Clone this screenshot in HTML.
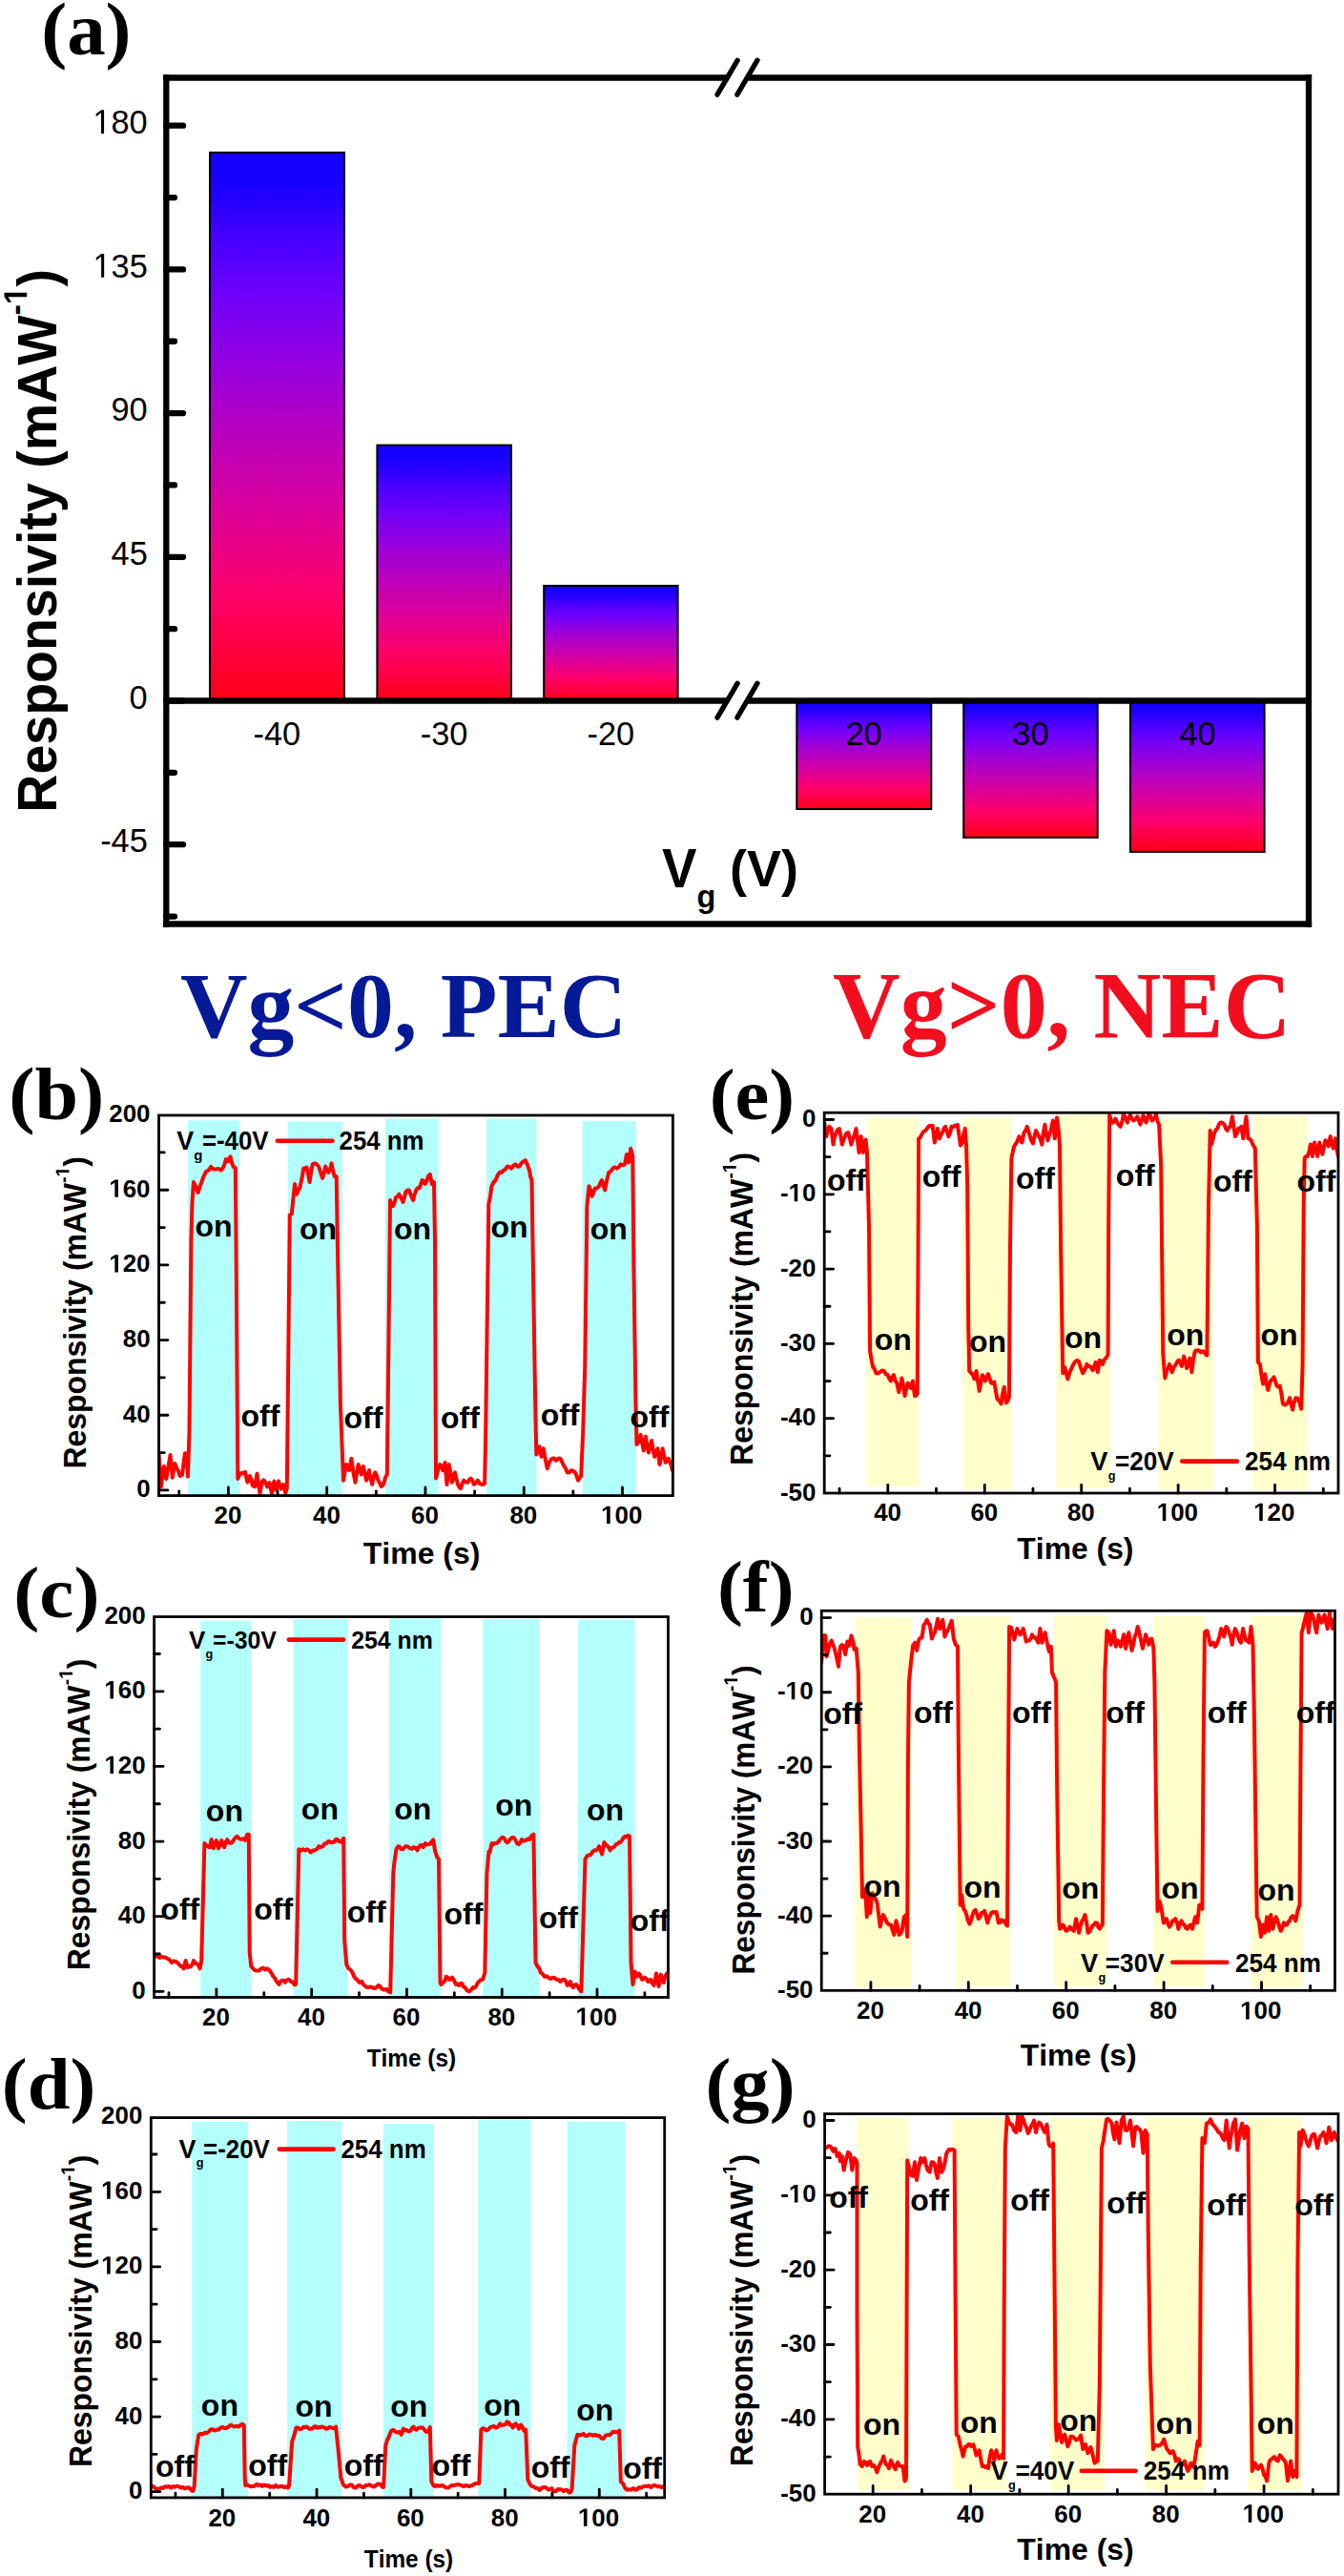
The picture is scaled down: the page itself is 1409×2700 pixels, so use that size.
<!DOCTYPE html>
<html><head><meta charset="utf-8"><style>
html,body{margin:0;padding:0;background:#fff;overflow:hidden;width:1409px;height:2700px;}
svg{display:block;}
text{font-kerning:none;}
</style></head><body>
<svg width="1409" height="2700" viewBox="0 0 1409 2700">
<defs><linearGradient id="gbr" x1="0" y1="0" x2="0" y2="1"><stop offset="0.00" stop-color="#1600ff"/><stop offset="0.05" stop-color="#1600ff"/><stop offset="0.10" stop-color="#2b00ff"/><stop offset="0.15" stop-color="#4400ff"/><stop offset="0.20" stop-color="#5800ff"/><stop offset="0.25" stop-color="#6b00fc"/><stop offset="0.30" stop-color="#7b00f1"/><stop offset="0.35" stop-color="#8b00e6"/><stop offset="0.40" stop-color="#9a00da"/><stop offset="0.45" stop-color="#a800ce"/><stop offset="0.50" stop-color="#b500c2"/><stop offset="0.55" stop-color="#c200b5"/><stop offset="0.60" stop-color="#ce00a8"/><stop offset="0.65" stop-color="#da009a"/><stop offset="0.70" stop-color="#e6008b"/><stop offset="0.75" stop-color="#f1007b"/><stop offset="0.80" stop-color="#fc006b"/><stop offset="0.85" stop-color="#ff0058"/><stop offset="0.90" stop-color="#ff0044"/><stop offset="0.95" stop-color="#ff002b"/><stop offset="1.00" stop-color="#ff0016"/></linearGradient></defs>
<rect width="1409" height="2700" fill="#ffffff"/>
<g transform="translate(188.90 1086.92) scale(0.9985 1)"><text font-family="Liberation Serif" font-weight="bold" font-size="97.92" fill="#061996">Vg&lt;0, PEC</text></g>
<g transform="translate(873.10 1087.26) scale(0.9921 1)"><text font-family="Liberation Serif" font-weight="bold" font-size="98.74" fill="#f20d1f">Vg&gt;0, NEC</text></g>
<rect x="220.00" y="159.83" width="141.00" height="574.67" fill="url(#gbr)" stroke="#000" stroke-width="2.00"/>
<rect x="395.40" y="466.59" width="140.60" height="267.91" fill="url(#gbr)" stroke="#000" stroke-width="2.00"/>
<rect x="570.20" y="613.94" width="140.40" height="120.56" fill="url(#gbr)" stroke="#000" stroke-width="2.00"/>
<rect x="835.30" y="734.50" width="141.00" height="113.53" fill="url(#gbr)" stroke="#000" stroke-width="2.00"/>
<rect x="1010.20" y="734.50" width="140.50" height="143.33" fill="url(#gbr)" stroke="#000" stroke-width="2.00"/>
<rect x="1185.00" y="734.50" width="140.60" height="158.40" fill="url(#gbr)" stroke="#000" stroke-width="2.00"/>
<line x1="174.30" y1="78.35" x2="174.30" y2="971.65" stroke="#000" stroke-width="6.30" stroke-linecap="butt"/>
<line x1="1372.00" y1="78.35" x2="1372.00" y2="971.65" stroke="#000" stroke-width="6.30" stroke-linecap="butt"/>
<line x1="171.15" y1="968.50" x2="1375.15" y2="968.50" stroke="#000" stroke-width="6.30" stroke-linecap="butt"/>
<line x1="171.15" y1="81.50" x2="762.00" y2="81.50" stroke="#000" stroke-width="6.30" stroke-linecap="butt"/>
<line x1="783.50" y1="81.50" x2="1375.15" y2="81.50" stroke="#000" stroke-width="6.30" stroke-linecap="butt"/>
<line x1="174.30" y1="734.50" x2="762.30" y2="734.50" stroke="#000" stroke-width="6.30" stroke-linecap="butt"/>
<line x1="783.20" y1="734.50" x2="1372.00" y2="734.50" stroke="#000" stroke-width="6.30" stroke-linecap="butt"/>
<line x1="752.00" y1="99.10" x2="773.20" y2="63.20" stroke="#000" stroke-width="5.30" stroke-linecap="round"/>
<line x1="772.90" y1="99.10" x2="794.00" y2="63.20" stroke="#000" stroke-width="5.30" stroke-linecap="round"/>
<line x1="752.00" y1="752.10" x2="773.20" y2="716.20" stroke="#000" stroke-width="5.30" stroke-linecap="round"/>
<line x1="772.90" y1="752.10" x2="794.00" y2="716.20" stroke="#000" stroke-width="5.30" stroke-linecap="round"/>
<line x1="174.30" y1="131.70" x2="192.00" y2="131.70" stroke="#000" stroke-width="6.30" stroke-linecap="round"/>
<line x1="174.30" y1="282.40" x2="192.00" y2="282.40" stroke="#000" stroke-width="6.30" stroke-linecap="round"/>
<line x1="174.30" y1="433.10" x2="192.00" y2="433.10" stroke="#000" stroke-width="6.30" stroke-linecap="round"/>
<line x1="174.30" y1="583.80" x2="192.00" y2="583.80" stroke="#000" stroke-width="6.30" stroke-linecap="round"/>
<line x1="174.30" y1="734.50" x2="192.00" y2="734.50" stroke="#000" stroke-width="6.30" stroke-linecap="round"/>
<line x1="174.30" y1="885.20" x2="192.00" y2="885.20" stroke="#000" stroke-width="6.30" stroke-linecap="round"/>
<line x1="174.30" y1="207.05" x2="183.00" y2="207.05" stroke="#000" stroke-width="6.30" stroke-linecap="round"/>
<line x1="174.30" y1="357.75" x2="183.00" y2="357.75" stroke="#000" stroke-width="6.30" stroke-linecap="round"/>
<line x1="174.30" y1="508.45" x2="183.00" y2="508.45" stroke="#000" stroke-width="6.30" stroke-linecap="round"/>
<line x1="174.30" y1="659.15" x2="183.00" y2="659.15" stroke="#000" stroke-width="6.30" stroke-linecap="round"/>
<line x1="174.30" y1="809.85" x2="183.00" y2="809.85" stroke="#000" stroke-width="6.30" stroke-linecap="round"/>
<line x1="174.30" y1="960.55" x2="183.00" y2="960.55" stroke="#000" stroke-width="6.30" stroke-linecap="round"/>
<g transform="translate(97.38 140.09) scale(0.9550 1)"><path transform="translate(0.00 0) scale(0.01758 -0.01758)" d="M515 0L515 1237L197 1010L197 1180L530 1409L696 1409L696 0Z" fill="#000"/><text x="20.02" font-family="Liberation Sans" font-weight="normal" font-size="36.00" fill="#000">80</text></g>
<g transform="translate(97.48 290.79) scale(0.9550 1)"><path transform="translate(0.00 0) scale(0.01758 -0.01758)" d="M515 0L515 1237L197 1010L197 1180L530 1409L696 1409L696 0Z" fill="#000"/><text x="20.02" font-family="Liberation Sans" font-weight="normal" font-size="36.00" fill="#000">35</text></g>
<g transform="translate(116.50 441.49) scale(0.9550 1)"><text font-family="Liberation Sans" font-weight="normal" font-size="36.00" fill="#000">90</text></g>
<g transform="translate(116.60 592.01) scale(0.9550 1)"><text font-family="Liberation Sans" font-weight="normal" font-size="36.00" fill="#000">45</text></g>
<g transform="translate(135.62 742.89) scale(0.9550 1)"><text font-family="Liberation Sans" font-weight="normal" font-size="36.00" fill="#000">0</text></g>
<g transform="translate(105.15 893.41) scale(0.9550 1)"><text font-family="Liberation Sans" font-weight="normal" font-size="36.00" fill="#000">-45</text></g>
<g transform="translate(265.56 780.89) scale(0.9550 1)"><text font-family="Liberation Sans" font-weight="normal" font-size="36.00" fill="#000">-40</text></g>
<g transform="translate(440.76 780.89) scale(0.9550 1)"><text font-family="Liberation Sans" font-weight="normal" font-size="36.00" fill="#000">-30</text></g>
<g transform="translate(615.46 780.89) scale(0.9550 1)"><text font-family="Liberation Sans" font-weight="normal" font-size="36.00" fill="#000">-20</text></g>
<g transform="translate(886.49 780.89) scale(0.9550 1)"><text font-family="Liberation Sans" font-weight="normal" font-size="36.00" fill="#000">20</text></g>
<g transform="translate(1061.35 780.89) scale(0.9550 1)"><text font-family="Liberation Sans" font-weight="normal" font-size="36.00" fill="#000">30</text></g>
<g transform="translate(1236.46 780.89) scale(0.9550 1)"><text font-family="Liberation Sans" font-weight="normal" font-size="36.00" fill="#000">40</text></g>
<g transform="translate(43.25 56.74) scale(1.0462 1)"><text font-family="Liberation Serif" font-weight="bold" font-size="77.31" fill="#000">(a)</text></g>
<g transform="translate(693.93 930.30) scale(0.9615 1)"><text font-family="Liberation Sans" font-weight="bold" font-size="56.83" fill="#000">V</text></g>
<g transform="translate(730.47 950.50) scale(1.0000 1)"><text font-family="Liberation Sans" font-weight="bold" font-size="32.50" fill="#000">g</text></g>
<g transform="translate(764.91 929.40) scale(1.0189 1)"><text font-family="Liberation Sans" font-weight="bold" font-size="53.00" fill="#000">(V)</text></g>
<g transform="translate(58.60 851.72) rotate(-90) scale(0.9676 1)"><text font-family="Liberation Sans" font-weight="bold" font-size="57.40" fill="#000">Responsivity (mAW</text><g transform="translate(538.99 -30.42)"><text x="0.00" font-family="Liberation Sans" font-weight="bold" font-size="34.44" fill="#000">-</text><path transform="translate(11.47 0) scale(0.01682 -0.01682)" d="M478 0L478 1170L140 959L140 1180L493 1409L759 1409L759 0Z" fill="#000"/></g><g transform="translate(569.62 0)"><text font-family="Liberation Sans" font-weight="bold" font-size="57.40" fill="#000">)</text></g></g>
<rect x="197.10" y="1174.30" width="53.90" height="393.30" fill="#b3fffc"/>
<rect x="301.60" y="1175.40" width="57.30" height="392.20" fill="#b3fffc"/>
<rect x="403.80" y="1172.70" width="55.80" height="394.90" fill="#b3fffc"/>
<rect x="510.00" y="1172.70" width="52.50" height="394.90" fill="#b3fffc"/>
<rect x="610.70" y="1174.80" width="56.30" height="392.80" fill="#b3fffc"/>
<clipPath id="c53"><rect x="166.50" y="1169.00" width="538.90" height="398.60"/></clipPath>
<path clip-path="url(#c53)" d="M166.5 1523.8 L168.9 1558.3 L170.3 1546.7 L171.9 1536.9 L172.8 1542.6 L174.3 1550.0 L178.5 1525.0 L180.8 1548.8 L183.2 1533.9 L184.1 1535.9 L185.6 1539.3 L187.1 1542.3 L188.6 1547.0 L189.8 1545.2 L191.0 1545.8 L193.9 1523.2 L195.7 1523.8 L196.9 1547.6 L198.5 1500.0 L200.4 1300.0 L201.5 1260.0 L203.0 1239.0 L205.1 1243.4 L207.7 1250.0 L209.3 1244.3 L210.8 1240.6 L213.3 1233.6 L216.0 1228.0 L218.8 1226.4 L221.2 1222.9 L223.3 1225.2 L225.4 1225.5 L228.7 1225.0 L231.7 1226.6 L233.8 1224.0 L235.4 1220.3 L236.9 1215.1 L239.0 1217.2 L240.4 1213.7 L241.6 1212.3 L242.9 1218.3 L244.2 1221.9 L245.5 1223.8 L246.8 1224.0 L247.5 1300.0 L249.3 1550.0 L250.9 1545.9 L252.9 1544.0 L254.8 1544.4 L257.0 1542.9 L259.4 1553.6 L260.8 1551.1 L261.8 1547.0 L263.6 1551.0 L264.8 1557.0 L267.1 1558.3 L269.5 1544.6 L270.8 1555.5 L272.5 1564.9 L274.9 1552.4 L276.4 1551.4 L277.9 1553.0 L280.2 1558.3 L281.1 1557.1 L282.6 1554.2 L285.0 1566.0 L287.4 1552.4 L288.5 1558.2 L289.8 1561.9 L292.1 1552.4 L294.5 1560.7 L296.9 1556.0 L298.1 1559.2 L299.3 1564.9 L300.8 1560.0 L302.5 1400.0 L303.8 1273.5 L305.8 1272.5 L309.0 1241.0 L311.0 1251.7 L312.6 1247.9 L314.2 1245.4 L316.4 1235.8 L318.3 1224.6 L319.8 1224.7 L321.5 1223.5 L323.0 1230.2 L324.6 1239.0 L326.1 1228.6 L327.7 1220.4 L329.8 1219.4 L331.7 1220.0 L334.0 1222.5 L336.3 1229.5 L338.1 1235.0 L339.6 1230.0 L341.2 1222.5 L343.0 1226.7 L344.4 1228.8 L346.2 1225.3 L347.5 1219.4 L348.8 1225.5 L350.6 1233.0 L352.7 1233.0 L353.8 1300.0 L356.9 1472.0 L360.0 1551.7 L361.6 1542.4 L363.0 1535.0 L364.7 1538.8 L366.2 1541.0 L368.3 1528.8 L370.4 1543.3 L372.5 1553.8 L373.8 1545.4 L375.6 1535.0 L377.1 1539.1 L378.8 1545.4 L380.8 1537.0 L382.4 1543.4 L384.0 1551.7 L385.7 1547.3 L387.0 1541.0 L388.5 1549.5 L390.2 1555.8 L391.5 1548.3 L393.3 1543.3 L394.9 1546.6 L396.5 1551.7 L397.8 1553.8 L399.6 1558.0 L401.2 1556.9 L402.7 1553.8 L404.0 1548.5 L405.8 1545.4 L407.5 1400.0 L409.0 1258.0 L410.3 1262.3 L412.0 1264.0 L413.6 1260.2 L415.0 1255.0 L416.9 1254.3 L418.3 1251.7 L420.3 1255.1 L422.5 1260.0 L423.9 1255.5 L425.5 1249.0 L427.2 1247.5 L428.8 1247.5 L431.2 1253.5 L433.1 1258.0 L434.7 1251.6 L436.2 1247.5 L437.7 1245.3 L439.4 1245.4 L440.8 1242.4 L442.5 1237.0 L444.0 1238.0 L445.6 1241.0 L447.3 1238.1 L448.8 1233.0 L450.8 1230.8 L452.9 1241.2 L455.0 1239.0 L456.0 1300.0 L457.0 1549.6 L459.2 1541.1 L461.2 1535.0 L463.0 1537.3 L464.4 1541.2 L466.5 1533.0 L468.5 1556.0 L470.6 1535.0 L472.2 1543.1 L473.8 1553.8 L475.5 1549.3 L476.9 1543.3 L478.6 1550.5 L480.0 1555.8 L481.8 1559.2 L483.1 1560.0 L484.6 1555.1 L486.2 1551.7 L488.3 1553.5 L490.4 1553.8 L492.0 1550.7 L493.5 1549.6 L495.2 1551.5 L496.7 1555.8 L498.5 1554.9 L500.8 1551.7 L503.1 1555.0 L505.0 1555.8 L506.5 1556.0 L508.1 1554.8 L509.2 1500.0 L512.3 1262.0 L514.1 1253.6 L515.4 1243.3 L517.6 1239.0 L519.6 1237.0 L521.5 1232.2 L523.8 1228.8 L525.9 1228.9 L527.9 1226.7 L529.7 1225.7 L532.0 1222.5 L534.0 1222.9 L536.2 1224.6 L538.5 1221.5 L540.4 1220.4 L542.8 1222.7 L544.6 1222.5 L546.5 1219.2 L548.8 1217.3 L550.8 1216.2 L552.7 1220.3 L555.0 1226.7 L556.1 1233.0 L557.5 1237.0 L559.2 1347.5 L561.2 1472.5 L562.3 1524.6 L563.6 1521.7 L565.4 1516.2 L567.5 1526.7 L569.6 1518.3 L571.8 1529.9 L573.8 1539.2 L575.8 1532.9 L577.6 1529.8 L579.0 1528.8 L581.1 1528.6 L583.1 1530.8 L585.4 1528.6 L587.3 1528.8 L588.6 1530.9 L590.4 1535.0 L592.6 1538.3 L594.6 1543.3 L596.7 1543.4 L598.8 1541.2 L600.6 1541.5 L602.9 1543.3 L604.3 1546.5 L606.0 1551.7 L607.6 1548.7 L609.2 1547.5 L611.2 1500.0 L613.3 1431.0 L615.4 1264.0 L617.5 1243.3 L619.1 1247.4 L620.6 1253.8 L622.1 1250.6 L623.8 1245.4 L625.7 1245.6 L628.0 1243.3 L629.7 1239.0 L631.0 1237.0 L632.4 1241.3 L634.2 1247.5 L636.1 1237.2 L638.3 1228.8 L640.2 1227.8 L642.5 1224.6 L644.8 1223.3 L646.7 1224.6 L648.8 1223.2 L650.8 1220.4 L653.1 1221.2 L655.0 1220.4 L657.0 1210.0 L659.2 1218.3 L661.2 1203.8 L663.3 1212.0 L664.4 1326.7 L666.5 1472.5 L667.5 1514.0 L669.9 1510.1 L671.7 1503.8 L673.0 1511.3 L674.8 1520.4 L676.9 1505.8 L678.4 1515.0 L680.0 1522.5 L681.4 1517.0 L683.1 1510.0 L684.6 1519.4 L686.2 1526.7 L687.8 1521.6 L689.4 1518.3 L691.5 1535.0 L693.1 1527.6 L694.6 1518.3 L695.9 1524.3 L697.7 1532.9 L699.0 1531.7 L700.8 1528.8 L703.1 1534.2 L705.0 1541.2" fill="none" stroke="#ff0000" stroke-width="4.00" stroke-linejoin="round" stroke-linecap="round"/>
<rect x="166.50" y="1169.00" width="538.90" height="398.60" fill="none" stroke="#000" stroke-width="2.80"/>
<line x1="166.50" y1="1561.90" x2="175.90" y2="1561.90" stroke="#000" stroke-width="2.80" stroke-linecap="round"/>
<line x1="166.50" y1="1483.24" x2="175.90" y2="1483.24" stroke="#000" stroke-width="2.80" stroke-linecap="round"/>
<line x1="166.50" y1="1404.58" x2="175.90" y2="1404.58" stroke="#000" stroke-width="2.80" stroke-linecap="round"/>
<line x1="166.50" y1="1325.92" x2="175.90" y2="1325.92" stroke="#000" stroke-width="2.80" stroke-linecap="round"/>
<line x1="166.50" y1="1247.26" x2="175.90" y2="1247.26" stroke="#000" stroke-width="2.80" stroke-linecap="round"/>
<line x1="166.50" y1="1522.57" x2="172.30" y2="1522.57" stroke="#000" stroke-width="2.80" stroke-linecap="round"/>
<line x1="166.50" y1="1443.91" x2="172.30" y2="1443.91" stroke="#000" stroke-width="2.80" stroke-linecap="round"/>
<line x1="166.50" y1="1365.25" x2="172.30" y2="1365.25" stroke="#000" stroke-width="2.80" stroke-linecap="round"/>
<line x1="166.50" y1="1286.59" x2="172.30" y2="1286.59" stroke="#000" stroke-width="2.80" stroke-linecap="round"/>
<line x1="166.50" y1="1207.93" x2="172.30" y2="1207.93" stroke="#000" stroke-width="2.80" stroke-linecap="round"/>
<line x1="239.40" y1="1567.60" x2="239.40" y2="1558.90" stroke="#000" stroke-width="2.80" stroke-linecap="round"/>
<line x1="342.68" y1="1567.60" x2="342.68" y2="1558.90" stroke="#000" stroke-width="2.80" stroke-linecap="round"/>
<line x1="445.95" y1="1567.60" x2="445.95" y2="1558.90" stroke="#000" stroke-width="2.80" stroke-linecap="round"/>
<line x1="549.23" y1="1567.60" x2="549.23" y2="1558.90" stroke="#000" stroke-width="2.80" stroke-linecap="round"/>
<line x1="652.50" y1="1567.60" x2="652.50" y2="1558.90" stroke="#000" stroke-width="2.80" stroke-linecap="round"/>
<line x1="187.76" y1="1567.60" x2="187.76" y2="1562.80" stroke="#000" stroke-width="2.80" stroke-linecap="round"/>
<line x1="291.04" y1="1567.60" x2="291.04" y2="1562.80" stroke="#000" stroke-width="2.80" stroke-linecap="round"/>
<line x1="394.31" y1="1567.60" x2="394.31" y2="1562.80" stroke="#000" stroke-width="2.80" stroke-linecap="round"/>
<line x1="497.59" y1="1567.60" x2="497.59" y2="1562.80" stroke="#000" stroke-width="2.80" stroke-linecap="round"/>
<line x1="600.86" y1="1567.60" x2="600.86" y2="1562.80" stroke="#000" stroke-width="2.80" stroke-linecap="round"/>
<g transform="translate(143.14 1569.46) scale(0.9750 1)"><text font-family="Liberation Sans" font-weight="bold" font-size="26.60" fill="#000">0</text></g>
<g transform="translate(128.72 1490.80) scale(0.9750 1)"><text font-family="Liberation Sans" font-weight="bold" font-size="26.60" fill="#000">40</text></g>
<g transform="translate(128.72 1412.14) scale(0.9750 1)"><text font-family="Liberation Sans" font-weight="bold" font-size="26.60" fill="#000">80</text></g>
<g transform="translate(114.29 1333.48) scale(0.9750 1)"><path transform="translate(0.00 0) scale(0.01299 -0.01299)" d="M478 0L478 1170L140 959L140 1180L493 1409L759 1409L759 0Z" fill="#000"/><text x="14.79" font-family="Liberation Sans" font-weight="bold" font-size="26.60" fill="#000">20</text></g>
<g transform="translate(114.29 1254.82) scale(0.9750 1)"><path transform="translate(0.00 0) scale(0.01299 -0.01299)" d="M478 0L478 1170L140 959L140 1180L493 1409L759 1409L759 0Z" fill="#000"/><text x="14.79" font-family="Liberation Sans" font-weight="bold" font-size="26.60" fill="#000">60</text></g>
<g transform="translate(114.29 1176.16) scale(0.9750 1)"><text font-family="Liberation Sans" font-weight="bold" font-size="26.60" fill="#000">200</text></g>
<g transform="translate(224.56 1597.06) scale(0.9750 1)"><text font-family="Liberation Sans" font-weight="bold" font-size="26.60" fill="#000">20</text></g>
<g transform="translate(328.09 1597.06) scale(0.9750 1)"><text font-family="Liberation Sans" font-weight="bold" font-size="26.60" fill="#000">40</text></g>
<g transform="translate(431.08 1597.06) scale(0.9750 1)"><text font-family="Liberation Sans" font-weight="bold" font-size="26.60" fill="#000">60</text></g>
<g transform="translate(534.42 1597.06) scale(0.9750 1)"><text font-family="Liberation Sans" font-weight="bold" font-size="26.60" fill="#000">80</text></g>
<g transform="translate(630.08 1597.06) scale(0.9750 1)"><path transform="translate(0.00 0) scale(0.01299 -0.01299)" d="M478 0L478 1170L140 959L140 1180L493 1409L759 1409L759 0Z" fill="#000"/><text x="14.79" font-family="Liberation Sans" font-weight="bold" font-size="26.60" fill="#000">00</text></g>
<g transform="translate(380.84 1638.80) scale(1.0096 1)"><text font-family="Liberation Sans" font-weight="bold" font-size="31.69" fill="#000">Time (s)</text></g>
<g transform="translate(90.20 1539.54) rotate(-90) scale(0.9556 1)"><text font-family="Liberation Sans" font-weight="bold" font-size="33.40" fill="#000">Responsivity (mAW</text><g transform="translate(313.63 -17.70)"><text x="0.00" font-family="Liberation Sans" font-weight="bold" font-size="20.04" fill="#000">-</text><path transform="translate(6.67 0) scale(0.00979 -0.00979)" d="M478 0L478 1170L140 959L140 1180L493 1409L759 1409L759 0Z" fill="#000"/></g><g transform="translate(331.45 0)"><text font-family="Liberation Sans" font-weight="bold" font-size="33.40" fill="#000">)</text></g></g>
<g transform="translate(9.30 1173.27) scale(1.0549 1)"><text font-family="Liberation Serif" font-weight="bold" font-size="77.64" fill="#000">(b)</text></g>
<g transform="translate(204.55 1295.60) scale(1.0000 1)"><text font-family="Liberation Sans" font-weight="bold" font-size="32.00" fill="#000">on</text></g>
<g transform="translate(313.95 1299.00) scale(1.0000 1)"><text font-family="Liberation Sans" font-weight="bold" font-size="32.00" fill="#000">on</text></g>
<g transform="translate(412.95 1299.00) scale(1.0000 1)"><text font-family="Liberation Sans" font-weight="bold" font-size="32.00" fill="#000">on</text></g>
<g transform="translate(514.55 1297.00) scale(1.0000 1)"><text font-family="Liberation Sans" font-weight="bold" font-size="32.00" fill="#000">on</text></g>
<g transform="translate(618.75 1299.00) scale(1.0000 1)"><text font-family="Liberation Sans" font-weight="bold" font-size="32.00" fill="#000">on</text></g>
<g transform="translate(252.50 1495.20) scale(1.0000 1)"><text font-family="Liberation Sans" font-weight="bold" font-size="32.00" fill="#000">off</text></g>
<g transform="translate(360.45 1497.30) scale(1.0000 1)"><text font-family="Liberation Sans" font-weight="bold" font-size="32.00" fill="#000">off</text></g>
<g transform="translate(462.05 1497.30) scale(1.0000 1)"><text font-family="Liberation Sans" font-weight="bold" font-size="32.00" fill="#000">off</text></g>
<g transform="translate(566.65 1494.20) scale(1.0000 1)"><text font-family="Liberation Sans" font-weight="bold" font-size="32.00" fill="#000">off</text></g>
<g transform="translate(660.45 1496.30) scale(1.0000 1)"><text font-family="Liberation Sans" font-weight="bold" font-size="32.00" fill="#000">off</text></g>
<g transform="translate(185.22 1205.20) scale(1.0000 1)"><text font-family="Liberation Sans" font-weight="bold" font-size="26.90" fill="#000">V</text></g>
<g transform="translate(203.36 1215.60) scale(1.0000 1)"><text font-family="Liberation Sans" font-weight="bold" font-size="15.00" fill="#000">g</text></g>
<g transform="translate(211.95 1205.20) scale(0.9600 1)"><text font-family="Liberation Sans" font-weight="bold" font-size="26.90" fill="#000">=-40V</text></g>
<line x1="290.80" y1="1195.70" x2="348.50" y2="1195.70" stroke="#ff0000" stroke-width="4.60" stroke-linecap="round"/>
<g transform="translate(355.60 1205.20) scale(0.9600 1)"><text font-family="Liberation Sans" font-weight="bold" font-size="26.90" fill="#000">254 nm</text></g>
<rect x="210.20" y="1698.60" width="53.30" height="394.90" fill="#b3fffc"/>
<rect x="307.80" y="1697.10" width="56.80" height="396.40" fill="#b3fffc"/>
<rect x="408.10" y="1696.20" width="54.30" height="397.30" fill="#b3fffc"/>
<rect x="506.30" y="1697.00" width="59.30" height="396.50" fill="#b3fffc"/>
<rect x="605.80" y="1697.50" width="59.80" height="396.00" fill="#b3fffc"/>
<clipPath id="c110"><rect x="161.60" y="1694.60" width="538.90" height="398.90"/></clipPath>
<path clip-path="url(#c110)" d="M162.3 2050.8 L164.8 2050.4 L167.5 2051.9 L169.2 2050.8 L171.5 2051.5 L173.4 2051.6 L175.8 2053.0 L177.9 2054.2 L180.0 2057.0 L182.1 2055.3 L184.2 2056.0 L186.6 2057.4 L189.4 2061.0 L191.0 2061.1 L192.5 2063.3 L194.6 2055.0 L196.7 2062.3 L198.2 2061.1 L199.8 2061.3 L201.6 2059.1 L202.9 2055.0 L204.5 2057.5 L206.0 2058.0 L207.9 2059.6 L209.6 2063.3 L211.2 2055.0 L214.4 1932.0 L215.4 1933.1 L217.6 1935.4 L219.6 1936.2 L221.7 1928.0 L223.8 1937.3 L225.5 1932.1 L226.9 1929.0 L229.0 1937.3 L230.5 1934.3 L232.1 1929.0 L233.6 1933.5 L235.2 1936.2 L236.6 1931.0 L238.3 1928.0 L239.7 1931.0 L241.5 1932.0 L243.3 1931.3 L244.6 1929.0 L247.0 1925.9 L248.8 1924.8 L250.6 1927.1 L252.9 1928.0 L255.0 1927.2 L257.1 1929.0 L259.2 1922.7 L260.8 1922.7 L261.7 2046.7 L263.3 2061.2 L265.4 2063.3 L267.2 2065.2 L269.6 2065.4 L271.6 2065.4 L273.8 2063.3 L275.8 2062.6 L277.9 2064.4 L280.0 2063.3 L282.1 2064.7 L284.2 2067.5 L286.4 2071.5 L288.3 2073.8 L290.3 2077.5 L292.5 2080.0 L294.0 2076.9 L295.6 2075.8 L297.2 2075.7 L298.8 2077.9 L300.6 2075.4 L302.9 2074.8 L305.3 2077.1 L307.1 2077.9 L308.6 2080.2 L310.2 2080.0 L313.3 1938.3 L315.6 1939.4 L317.5 1938.3 L319.9 1939.6 L321.7 1938.3 L323.5 1939.2 L325.8 1941.5 L328.0 1939.5 L330.0 1939.4 L332.2 1938.1 L334.2 1935.2 L336.0 1936.2 L338.3 1935.2 L340.3 1932.5 L342.5 1932.0 L344.1 1930.1 L345.6 1930.0 L347.4 1931.4 L348.8 1931.0 L350.3 1930.6 L351.9 1928.0 L353.2 1927.7 L355.0 1930.0 L356.5 1929.6 L358.1 1931.0 L360.2 1926.9 L361.2 2034.2 L363.3 2059.2 L365.4 2063.3 L367.2 2064.4 L369.6 2067.5 L371.2 2071.7 L372.7 2073.8 L374.0 2074.3 L375.8 2076.9 L377.3 2078.2 L379.2 2076.9 L380.7 2079.7 L382.1 2081.0 L384.4 2083.0 L386.2 2083.1 L388.2 2082.4 L390.4 2083.1 L392.4 2084.1 L394.6 2083.1 L396.7 2081.0 L398.4 2081.8 L399.8 2084.2 L402.2 2085.4 L404.0 2085.2 L405.6 2085.1 L407.1 2087.3 L409.2 2088.3 L412.3 1963.3 L413.3 1953.0 L415.4 1938.3 L417.5 1935.2 L418.9 1935.6 L420.6 1938.3 L422.6 1938.0 L424.8 1935.2 L427.3 1935.3 L430.0 1937.3 L431.8 1937.9 L433.3 1936.3 L435.5 1936.7 L437.5 1939.4 L439.2 1936.0 L440.6 1934.2 L442.2 1933.9 L443.8 1936.2 L445.8 1932.0 L447.6 1933.4 L449.0 1933.1 L450.7 1933.0 L452.1 1931.0 L454.2 1928.3 L456.2 1940.4 L458.3 1946.7 L460.0 1948.8 L461.5 2078.0 L462.5 2080.0 L464.6 2077.9 L466.4 2076.1 L467.7 2071.7 L469.2 2072.5 L470.8 2074.8 L472.4 2074.5 L474.0 2072.7 L476.0 2075.8 L478.1 2080.0 L479.7 2079.5 L481.2 2081.0 L482.9 2078.8 L484.4 2079.0 L485.7 2082.2 L487.5 2083.1 L489.8 2086.4 L491.7 2087.3 L493.7 2085.9 L495.8 2083.1 L497.7 2083.5 L499.0 2082.0 L500.7 2078.3 L502.1 2076.9 L504.0 2075.2 L506.2 2074.8 L508.3 2067.5 L510.4 1963.3 L512.5 1940.4 L513.5 1941.5 L515.6 1932.0 L517.2 1933.2 L518.8 1932.0 L520.6 1932.1 L522.9 1930.0 L524.9 1927.2 L527.1 1925.8 L528.8 1926.9 L530.2 1930.0 L532.0 1931.3 L533.3 1930.0 L535.2 1927.2 L537.5 1925.8 L538.9 1926.3 L540.6 1929.0 L542.1 1932.2 L543.8 1933.1 L545.1 1931.8 L546.9 1928.0 L549.0 1929.7 L551.0 1929.0 L553.3 1927.5 L555.2 1928.0 L557.3 1924.1 L559.4 1922.7 L561.5 2057.0 L563.5 2061.2 L565.3 2063.2 L566.7 2067.5 L568.5 2068.6 L570.8 2071.7 L573.0 2071.3 L575.0 2072.7 L577.1 2073.9 L579.2 2072.7 L581.0 2072.9 L583.3 2074.8 L585.3 2074.9 L587.5 2076.9 L589.6 2074.9 L591.7 2074.8 L593.3 2076.8 L594.8 2081.0 L596.3 2079.9 L597.9 2076.9 L599.3 2081.2 L601.0 2083.1 L602.8 2080.4 L604.2 2080.0 L605.5 2081.7 L607.3 2085.2 L609.4 2087.3 L611.5 2015.4 L613.5 1948.8 L614.6 1946.7 L616.0 1944.7 L617.7 1944.6 L619.1 1944.2 L620.8 1941.5 L623.1 1939.2 L625.0 1939.4 L626.6 1938.0 L628.1 1935.2 L629.9 1940.1 L631.2 1943.5 L633.3 1931.0 L635.7 1934.3 L637.5 1935.2 L639.6 1939.4 L640.9 1937.1 L642.7 1936.2 L644.2 1935.5 L645.8 1933.1 L647.2 1932.8 L648.9 1931.0 L650.4 1931.0 L652.0 1929.0 L653.6 1926.0 L655.2 1924.8 L656.8 1925.3 L658.3 1923.8 L660.0 1924.8 L661.5 2057.0 L663.5 2080.0 L665.6 2066.5 L667.7 2071.7 L669.8 2068.5 L671.1 2070.4 L673.0 2074.8 L674.3 2074.6 L676.0 2072.7 L677.8 2074.0 L679.2 2076.9 L680.5 2077.1 L682.3 2074.8 L684.0 2078.8 L685.4 2081.0 L686.7 2075.9 L687.9 2068.5 L689.0 2074.1 L690.6 2082.0 L692.7 2069.6 L694.1 2073.0 L695.8 2078.0 L697.1 2072.1 L699.0 2068.5 L700.4 2069.6" fill="none" stroke="#ff0000" stroke-width="4.00" stroke-linejoin="round" stroke-linecap="round"/>
<rect x="161.60" y="1694.60" width="538.90" height="398.90" fill="none" stroke="#000" stroke-width="2.80"/>
<line x1="161.60" y1="2087.30" x2="171.00" y2="2087.30" stroke="#000" stroke-width="2.80" stroke-linecap="round"/>
<line x1="161.60" y1="2008.68" x2="171.00" y2="2008.68" stroke="#000" stroke-width="2.80" stroke-linecap="round"/>
<line x1="161.60" y1="1930.06" x2="171.00" y2="1930.06" stroke="#000" stroke-width="2.80" stroke-linecap="round"/>
<line x1="161.60" y1="1851.44" x2="171.00" y2="1851.44" stroke="#000" stroke-width="2.80" stroke-linecap="round"/>
<line x1="161.60" y1="1772.82" x2="171.00" y2="1772.82" stroke="#000" stroke-width="2.80" stroke-linecap="round"/>
<line x1="161.60" y1="2047.99" x2="167.40" y2="2047.99" stroke="#000" stroke-width="2.80" stroke-linecap="round"/>
<line x1="161.60" y1="1969.37" x2="167.40" y2="1969.37" stroke="#000" stroke-width="2.80" stroke-linecap="round"/>
<line x1="161.60" y1="1890.75" x2="167.40" y2="1890.75" stroke="#000" stroke-width="2.80" stroke-linecap="round"/>
<line x1="161.60" y1="1812.13" x2="167.40" y2="1812.13" stroke="#000" stroke-width="2.80" stroke-linecap="round"/>
<line x1="161.60" y1="1733.51" x2="167.40" y2="1733.51" stroke="#000" stroke-width="2.80" stroke-linecap="round"/>
<line x1="226.90" y1="2093.50" x2="226.90" y2="2084.80" stroke="#000" stroke-width="2.80" stroke-linecap="round"/>
<line x1="326.68" y1="2093.50" x2="326.68" y2="2084.80" stroke="#000" stroke-width="2.80" stroke-linecap="round"/>
<line x1="426.45" y1="2093.50" x2="426.45" y2="2084.80" stroke="#000" stroke-width="2.80" stroke-linecap="round"/>
<line x1="526.23" y1="2093.50" x2="526.23" y2="2084.80" stroke="#000" stroke-width="2.80" stroke-linecap="round"/>
<line x1="626.00" y1="2093.50" x2="626.00" y2="2084.80" stroke="#000" stroke-width="2.80" stroke-linecap="round"/>
<line x1="177.01" y1="2093.50" x2="177.01" y2="2088.70" stroke="#000" stroke-width="2.80" stroke-linecap="round"/>
<line x1="276.79" y1="2093.50" x2="276.79" y2="2088.70" stroke="#000" stroke-width="2.80" stroke-linecap="round"/>
<line x1="376.56" y1="2093.50" x2="376.56" y2="2088.70" stroke="#000" stroke-width="2.80" stroke-linecap="round"/>
<line x1="476.34" y1="2093.50" x2="476.34" y2="2088.70" stroke="#000" stroke-width="2.80" stroke-linecap="round"/>
<line x1="576.11" y1="2093.50" x2="576.11" y2="2088.70" stroke="#000" stroke-width="2.80" stroke-linecap="round"/>
<line x1="675.89" y1="2093.50" x2="675.89" y2="2088.70" stroke="#000" stroke-width="2.80" stroke-linecap="round"/>
<g transform="translate(138.24 2094.86) scale(0.9750 1)"><text font-family="Liberation Sans" font-weight="bold" font-size="26.60" fill="#000">0</text></g>
<g transform="translate(123.82 2016.24) scale(0.9750 1)"><text font-family="Liberation Sans" font-weight="bold" font-size="26.60" fill="#000">40</text></g>
<g transform="translate(123.82 1937.62) scale(0.9750 1)"><text font-family="Liberation Sans" font-weight="bold" font-size="26.60" fill="#000">80</text></g>
<g transform="translate(109.39 1859.00) scale(0.9750 1)"><path transform="translate(0.00 0) scale(0.01299 -0.01299)" d="M478 0L478 1170L140 959L140 1180L493 1409L759 1409L759 0Z" fill="#000"/><text x="14.79" font-family="Liberation Sans" font-weight="bold" font-size="26.60" fill="#000">20</text></g>
<g transform="translate(109.39 1780.38) scale(0.9750 1)"><path transform="translate(0.00 0) scale(0.01299 -0.01299)" d="M478 0L478 1170L140 959L140 1180L493 1409L759 1409L759 0Z" fill="#000"/><text x="14.79" font-family="Liberation Sans" font-weight="bold" font-size="26.60" fill="#000">60</text></g>
<g transform="translate(109.39 1701.76) scale(0.9750 1)"><text font-family="Liberation Sans" font-weight="bold" font-size="26.60" fill="#000">200</text></g>
<g transform="translate(212.06 2122.76) scale(0.9750 1)"><text font-family="Liberation Sans" font-weight="bold" font-size="26.60" fill="#000">20</text></g>
<g transform="translate(312.09 2122.76) scale(0.9750 1)"><text font-family="Liberation Sans" font-weight="bold" font-size="26.60" fill="#000">40</text></g>
<g transform="translate(411.58 2122.76) scale(0.9750 1)"><text font-family="Liberation Sans" font-weight="bold" font-size="26.60" fill="#000">60</text></g>
<g transform="translate(511.42 2122.76) scale(0.9750 1)"><text font-family="Liberation Sans" font-weight="bold" font-size="26.60" fill="#000">80</text></g>
<g transform="translate(603.58 2122.76) scale(0.9750 1)"><path transform="translate(0.00 0) scale(0.01299 -0.01299)" d="M478 0L478 1170L140 959L140 1180L493 1409L759 1409L759 0Z" fill="#000"/><text x="14.79" font-family="Liberation Sans" font-weight="bold" font-size="26.60" fill="#000">00</text></g>
<g transform="translate(384.73 2165.80) scale(0.9521 1)"><text font-family="Liberation Sans" font-weight="bold" font-size="25.58" fill="#000">Time (s)</text></g>
<g transform="translate(93.75 2065.13) rotate(-90) scale(0.9530 1)"><text font-family="Liberation Sans" font-weight="bold" font-size="33.40" fill="#000">Responsivity (mAW</text><g transform="translate(313.63 -17.70)"><text x="0.00" font-family="Liberation Sans" font-weight="bold" font-size="20.04" fill="#000">-</text><path transform="translate(6.67 0) scale(0.00979 -0.00979)" d="M478 0L478 1170L140 959L140 1180L493 1409L759 1409L759 0Z" fill="#000"/></g><g transform="translate(331.45 0)"><text font-family="Liberation Sans" font-weight="bold" font-size="33.40" fill="#000">)</text></g></g>
<g transform="translate(14.33 1695.49) scale(1.0535 1)"><text font-family="Liberation Serif" font-weight="bold" font-size="77.09" fill="#000">(c)</text></g>
<g transform="translate(168.35 2011.70) scale(1.0000 1)"><text font-family="Liberation Sans" font-weight="bold" font-size="32.00" fill="#000">off</text></g>
<g transform="translate(215.85 1908.75) scale(1.0000 1)"><text font-family="Liberation Sans" font-weight="bold" font-size="32.00" fill="#000">on</text></g>
<g transform="translate(266.25 2012.30) scale(1.0000 1)"><text font-family="Liberation Sans" font-weight="bold" font-size="32.00" fill="#000">off</text></g>
<g transform="translate(315.85 1906.70) scale(1.0000 1)"><text font-family="Liberation Sans" font-weight="bold" font-size="32.00" fill="#000">on</text></g>
<g transform="translate(363.75 2015.00) scale(1.0000 1)"><text font-family="Liberation Sans" font-weight="bold" font-size="32.00" fill="#000">off</text></g>
<g transform="translate(413.15 1906.70) scale(1.0000 1)"><text font-family="Liberation Sans" font-weight="bold" font-size="32.00" fill="#000">on</text></g>
<g transform="translate(465.45 2017.00) scale(1.0000 1)"><text font-family="Liberation Sans" font-weight="bold" font-size="32.00" fill="#000">off</text></g>
<g transform="translate(519.15 1903.30) scale(1.0000 1)"><text font-family="Liberation Sans" font-weight="bold" font-size="32.00" fill="#000">on</text></g>
<g transform="translate(565.00 2021.25) scale(1.0000 1)"><text font-family="Liberation Sans" font-weight="bold" font-size="32.00" fill="#000">off</text></g>
<g transform="translate(615.00 1907.50) scale(1.0000 1)"><text font-family="Liberation Sans" font-weight="bold" font-size="32.00" fill="#000">on</text></g>
<g transform="translate(660.75 2023.75) scale(1.0000 1)"><text font-family="Liberation Sans" font-weight="bold" font-size="32.00" fill="#000">off</text></g>
<g transform="translate(197.92 1728.30) scale(1.0000 1)"><text font-family="Liberation Sans" font-weight="bold" font-size="25.90" fill="#000">V</text></g>
<g transform="translate(215.50 1738.00) scale(1.0000 1)"><text font-family="Liberation Sans" font-weight="bold" font-size="12.70" fill="#000">g</text></g>
<g transform="translate(222.88 1728.30) scale(0.9600 1)"><text font-family="Liberation Sans" font-weight="bold" font-size="25.90" fill="#000">=-30V</text></g>
<line x1="302.80" y1="1718.60" x2="360.10" y2="1718.60" stroke="#ff0000" stroke-width="4.60" stroke-linecap="round"/>
<g transform="translate(368.14 1728.30) scale(0.9600 1)"><text font-family="Liberation Sans" font-weight="bold" font-size="25.90" fill="#000">254 nm</text></g>
<rect x="201.20" y="2224.00" width="58.80" height="393.90" fill="#b3fffc"/>
<rect x="301.20" y="2223.10" width="57.10" height="394.80" fill="#b3fffc"/>
<rect x="401.90" y="2226.00" width="52.70" height="391.90" fill="#b3fffc"/>
<rect x="501.25" y="2221.50" width="55.25" height="396.40" fill="#b3fffc"/>
<rect x="594.60" y="2223.50" width="60.40" height="394.40" fill="#b3fffc"/>
<clipPath id="c169"><rect x="158.30" y="2219.60" width="538.40" height="398.30"/></clipPath>
<path clip-path="url(#c169)" d="M158.3 2606.0 L159.8 2605.6 L161.5 2607.0 L162.8 2607.7 L164.6 2610.2 L165.9 2608.7 L167.7 2608.5 L169.2 2607.4 L170.8 2608.0 L172.9 2606.2 L175.0 2606.7 L176.9 2606.0 L179.2 2607.5 L181.3 2606.1 L183.3 2606.7 L185.3 2605.8 L187.5 2606.2 L189.8 2607.5 L191.7 2607.0 L193.8 2608.3 L195.8 2607.5 L198.0 2607.3 L200.0 2609.2 L201.3 2610.7 L202.5 2610.8 L203.8 2605.0 L205.8 2567.5 L207.2 2558.6 L208.3 2551.9 L210.4 2550.8 L212.5 2551.5 L214.6 2549.8 L216.7 2550.2 L218.8 2548.8 L220.7 2546.4 L222.9 2546.2 L224.8 2547.5 L227.1 2546.7 L229.4 2546.5 L231.2 2544.6 L233.6 2543.8 L235.4 2545.0 L237.3 2545.0 L239.6 2543.5 L241.7 2541.7 L243.8 2542.5 L245.6 2543.6 L247.9 2542.9 L249.9 2543.5 L252.1 2542.0 L253.9 2540.7 L255.8 2542.0 L256.7 2596.7 L257.3 2605.0 L258.8 2604.3 L260.4 2605.0 L262.6 2606.3 L264.6 2606.0 L266.2 2605.9 L268.0 2604.5 L269.4 2603.7 L270.8 2605.0 L272.9 2604.4 L275.0 2606.0 L276.3 2604.4 L278.0 2604.7 L279.9 2605.6 L281.2 2605.0 L283.1 2606.8 L285.0 2606.2 L287.2 2606.7 L289.0 2605.0 L291.7 2606.8 L293.8 2606.0 L295.6 2605.8 L297.9 2607.0 L300.1 2606.3 L302.1 2607.5 L303.1 2605.0 L306.2 2559.2 L308.4 2552.7 L310.4 2544.6 L312.5 2544.6 L314.4 2546.1 L316.7 2545.6 L318.2 2543.7 L320.0 2544.0 L321.5 2543.4 L322.9 2544.6 L324.7 2546.0 L326.0 2545.5 L327.5 2545.6 L329.2 2543.5 L330.5 2543.0 L332.3 2545.0 L333.8 2543.9 L335.4 2544.6 L337.2 2543.4 L339.6 2544.2 L341.7 2545.7 L343.7 2545.2 L345.5 2543.9 L347.9 2544.6 L349.8 2545.3 L352.1 2543.5 L355.2 2573.8 L357.3 2596.7 L358.9 2601.6 L360.4 2605.0 L362.7 2606.5 L364.6 2606.0 L366.6 2604.6 L368.8 2604.6 L370.7 2607.0 L372.9 2607.5 L375.1 2605.5 L377.0 2605.0 L379.4 2606.7 L381.2 2607.0 L383.4 2604.9 L385.4 2605.0 L387.4 2604.2 L389.6 2605.6 L391.7 2606.5 L394.0 2605.0 L396.4 2603.5 L399.0 2604.0 L400.7 2606.6 L402.1 2607.0 L404.2 2563.3 L405.8 2558.0 L407.3 2555.0 L409.0 2550.6 L410.4 2547.7 L412.5 2546.9 L414.6 2548.8 L416.8 2549.6 L418.8 2548.8 L420.8 2551.9 L422.9 2545.6 L424.6 2547.2 L426.0 2547.0 L428.5 2548.6 L430.4 2547.7 L431.9 2544.9 L433.5 2543.5 L435.1 2545.9 L436.7 2546.7 L438.8 2544.7 L440.8 2544.6 L443.0 2544.5 L445.0 2546.7 L446.6 2548.9 L448.8 2548.8 L450.8 2544.2 L452.3 2600.8 L454.4 2605.0 L456.1 2606.2 L457.5 2605.0 L460.6 2605.7 L463.8 2605.0 L467.1 2607.2 L470.0 2607.5 L473.3 2605.1 L476.2 2605.0 L479.2 2604.1 L482.5 2604.6 L485.7 2606.0 L488.8 2605.0 L491.7 2606.1 L495.0 2605.0 L497.5 2603.3 L500.2 2602.9 L502.3 2602.9 L504.4 2546.7 L506.1 2545.2 L507.5 2545.6 L509.9 2547.4 L511.7 2546.7 L513.6 2544.4 L515.8 2543.5 L517.7 2542.9 L520.0 2544.6 L522.0 2543.7 L524.2 2540.4 L526.0 2542.2 L528.3 2541.5 L530.0 2541.1 L531.5 2538.3 L533.3 2538.9 L534.6 2541.5 L536.2 2541.8 L537.7 2544.6 L539.4 2541.3 L540.8 2540.4 L542.2 2542.0 L544.0 2545.6 L546.0 2541.5 L547.7 2543.7 L549.2 2547.7 L551.2 2546.7 L553.3 2598.8 L555.4 2603.5 L557.5 2606.0 L559.4 2606.2 L561.7 2608.0 L563.6 2608.0 L565.8 2610.0 L567.9 2607.6 L570.0 2607.0 L572.2 2607.0 L574.2 2609.2 L576.2 2609.6 L578.3 2608.0 L580.2 2610.9 L582.5 2611.2 L584.8 2609.0 L586.7 2609.2 L588.5 2609.3 L590.8 2611.2 L592.8 2609.8 L595.0 2610.2 L596.4 2612.4 L598.1 2612.3 L599.6 2609.2 L602.3 2563.3 L604.1 2556.3 L605.4 2551.9 L607.0 2552.6 L608.5 2551.9 L610.3 2552.1 L611.7 2550.8 L614.0 2553.1 L615.8 2552.9 L617.7 2551.6 L620.0 2551.9 L622.1 2552.8 L624.2 2551.9 L626.1 2553.1 L628.3 2552.9 L630.3 2555.5 L632.5 2556.0 L634.6 2553.1 L636.7 2551.9 L638.8 2552.3 L640.8 2550.8 L642.6 2548.7 L645.0 2549.2 L646.9 2549.3 L649.2 2547.7 L650.8 2600.8 L653.3 2603.6 L655.4 2608.0 L657.3 2609.8 L659.6 2609.2 L661.8 2609.5 L663.8 2608.0 L665.8 2609.7 L667.9 2609.2 L669.7 2607.2 L672.0 2607.5 L675.0 2605.9 L678.3 2606.0 L680.1 2605.3 L682.5 2607.0 L684.4 2605.3 L686.7 2605.0 L689.0 2606.2 L690.8 2606.0 L694.0 2607.1 L696.7 2605.6" fill="none" stroke="#ff0000" stroke-width="4.00" stroke-linejoin="round" stroke-linecap="round"/>
<rect x="158.30" y="2219.60" width="538.40" height="398.30" fill="none" stroke="#000" stroke-width="2.80"/>
<line x1="158.30" y1="2611.70" x2="167.70" y2="2611.70" stroke="#000" stroke-width="2.80" stroke-linecap="round"/>
<line x1="158.30" y1="2533.10" x2="167.70" y2="2533.10" stroke="#000" stroke-width="2.80" stroke-linecap="round"/>
<line x1="158.30" y1="2454.50" x2="167.70" y2="2454.50" stroke="#000" stroke-width="2.80" stroke-linecap="round"/>
<line x1="158.30" y1="2375.90" x2="167.70" y2="2375.90" stroke="#000" stroke-width="2.80" stroke-linecap="round"/>
<line x1="158.30" y1="2297.30" x2="167.70" y2="2297.30" stroke="#000" stroke-width="2.80" stroke-linecap="round"/>
<line x1="158.30" y1="2572.40" x2="164.10" y2="2572.40" stroke="#000" stroke-width="2.80" stroke-linecap="round"/>
<line x1="158.30" y1="2493.80" x2="164.10" y2="2493.80" stroke="#000" stroke-width="2.80" stroke-linecap="round"/>
<line x1="158.30" y1="2415.20" x2="164.10" y2="2415.20" stroke="#000" stroke-width="2.80" stroke-linecap="round"/>
<line x1="158.30" y1="2336.60" x2="164.10" y2="2336.60" stroke="#000" stroke-width="2.80" stroke-linecap="round"/>
<line x1="158.30" y1="2258.00" x2="164.10" y2="2258.00" stroke="#000" stroke-width="2.80" stroke-linecap="round"/>
<line x1="233.30" y1="2617.90" x2="233.30" y2="2609.20" stroke="#000" stroke-width="2.80" stroke-linecap="round"/>
<line x1="332.05" y1="2617.90" x2="332.05" y2="2609.20" stroke="#000" stroke-width="2.80" stroke-linecap="round"/>
<line x1="430.80" y1="2617.90" x2="430.80" y2="2609.20" stroke="#000" stroke-width="2.80" stroke-linecap="round"/>
<line x1="529.55" y1="2617.90" x2="529.55" y2="2609.20" stroke="#000" stroke-width="2.80" stroke-linecap="round"/>
<line x1="628.30" y1="2617.90" x2="628.30" y2="2609.20" stroke="#000" stroke-width="2.80" stroke-linecap="round"/>
<line x1="183.93" y1="2617.90" x2="183.93" y2="2613.10" stroke="#000" stroke-width="2.80" stroke-linecap="round"/>
<line x1="282.68" y1="2617.90" x2="282.68" y2="2613.10" stroke="#000" stroke-width="2.80" stroke-linecap="round"/>
<line x1="381.42" y1="2617.90" x2="381.42" y2="2613.10" stroke="#000" stroke-width="2.80" stroke-linecap="round"/>
<line x1="480.17" y1="2617.90" x2="480.17" y2="2613.10" stroke="#000" stroke-width="2.80" stroke-linecap="round"/>
<line x1="578.92" y1="2617.90" x2="578.92" y2="2613.10" stroke="#000" stroke-width="2.80" stroke-linecap="round"/>
<line x1="677.67" y1="2617.90" x2="677.67" y2="2613.10" stroke="#000" stroke-width="2.80" stroke-linecap="round"/>
<g transform="translate(134.94 2619.26) scale(0.9750 1)"><text font-family="Liberation Sans" font-weight="bold" font-size="26.60" fill="#000">0</text></g>
<g transform="translate(120.52 2540.66) scale(0.9750 1)"><text font-family="Liberation Sans" font-weight="bold" font-size="26.60" fill="#000">40</text></g>
<g transform="translate(120.52 2462.06) scale(0.9750 1)"><text font-family="Liberation Sans" font-weight="bold" font-size="26.60" fill="#000">80</text></g>
<g transform="translate(106.09 2383.46) scale(0.9750 1)"><path transform="translate(0.00 0) scale(0.01299 -0.01299)" d="M478 0L478 1170L140 959L140 1180L493 1409L759 1409L759 0Z" fill="#000"/><text x="14.79" font-family="Liberation Sans" font-weight="bold" font-size="26.60" fill="#000">20</text></g>
<g transform="translate(106.09 2304.86) scale(0.9750 1)"><path transform="translate(0.00 0) scale(0.01299 -0.01299)" d="M478 0L478 1170L140 959L140 1180L493 1409L759 1409L759 0Z" fill="#000"/><text x="14.79" font-family="Liberation Sans" font-weight="bold" font-size="26.60" fill="#000">60</text></g>
<g transform="translate(106.09 2226.26) scale(0.9750 1)"><text font-family="Liberation Sans" font-weight="bold" font-size="26.60" fill="#000">200</text></g>
<g transform="translate(218.46 2647.76) scale(0.9750 1)"><text font-family="Liberation Sans" font-weight="bold" font-size="26.60" fill="#000">20</text></g>
<g transform="translate(317.46 2647.76) scale(0.9750 1)"><text font-family="Liberation Sans" font-weight="bold" font-size="26.60" fill="#000">40</text></g>
<g transform="translate(415.93 2647.76) scale(0.9750 1)"><text font-family="Liberation Sans" font-weight="bold" font-size="26.60" fill="#000">60</text></g>
<g transform="translate(514.75 2647.76) scale(0.9750 1)"><text font-family="Liberation Sans" font-weight="bold" font-size="26.60" fill="#000">80</text></g>
<g transform="translate(605.88 2647.76) scale(0.9750 1)"><path transform="translate(0.00 0) scale(0.01299 -0.01299)" d="M478 0L478 1170L140 959L140 1180L493 1409L759 1409L759 0Z" fill="#000"/><text x="14.79" font-family="Liberation Sans" font-weight="bold" font-size="26.60" fill="#000">00</text></g>
<g transform="translate(381.83 2690.80) scale(0.9521 1)"><text font-family="Liberation Sans" font-weight="bold" font-size="25.58" fill="#000">Time (s)</text></g>
<g transform="translate(95.90 2585.94) rotate(-90) scale(0.9556 1)"><text font-family="Liberation Sans" font-weight="bold" font-size="33.40" fill="#000">Responsivity (mAW</text><g transform="translate(313.63 -17.70)"><text x="0.00" font-family="Liberation Sans" font-weight="bold" font-size="20.04" fill="#000">-</text><path transform="translate(6.67 0) scale(0.00979 -0.00979)" d="M478 0L478 1170L140 959L140 1180L493 1409L759 1409L759 0Z" fill="#000"/></g><g transform="translate(331.45 0)"><text font-family="Liberation Sans" font-weight="bold" font-size="33.40" fill="#000">)</text></g></g>
<g transform="translate(1.86 2209.56) scale(1.0449 1)"><text font-family="Liberation Serif" font-weight="bold" font-size="77.20" fill="#000">(d)</text></g>
<g transform="translate(162.95 2596.25) scale(1.0000 1)"><text font-family="Liberation Sans" font-weight="bold" font-size="32.00" fill="#000">off</text></g>
<g transform="translate(210.85 2532.10) scale(1.0000 1)"><text font-family="Liberation Sans" font-weight="bold" font-size="32.00" fill="#000">on</text></g>
<g transform="translate(260.25 2594.60) scale(1.0000 1)"><text font-family="Liberation Sans" font-weight="bold" font-size="32.00" fill="#000">off</text></g>
<g transform="translate(309.55 2533.10) scale(1.0000 1)"><text font-family="Liberation Sans" font-weight="bold" font-size="32.00" fill="#000">on</text></g>
<g transform="translate(360.75 2595.20) scale(1.0000 1)"><text font-family="Liberation Sans" font-weight="bold" font-size="32.00" fill="#000">off</text></g>
<g transform="translate(409.15 2533.00) scale(1.0000 1)"><text font-family="Liberation Sans" font-weight="bold" font-size="32.00" fill="#000">on</text></g>
<g transform="translate(452.50 2595.00) scale(1.0000 1)"><text font-family="Liberation Sans" font-weight="bold" font-size="32.00" fill="#000">off</text></g>
<g transform="translate(507.25 2531.70) scale(1.0000 1)"><text font-family="Liberation Sans" font-weight="bold" font-size="32.00" fill="#000">on</text></g>
<g transform="translate(556.65 2597.00) scale(1.0000 1)"><text font-family="Liberation Sans" font-weight="bold" font-size="32.00" fill="#000">off</text></g>
<g transform="translate(604.15 2537.30) scale(1.0000 1)"><text font-family="Liberation Sans" font-weight="bold" font-size="32.00" fill="#000">on</text></g>
<g transform="translate(653.15 2598.30) scale(1.0000 1)"><text font-family="Liberation Sans" font-weight="bold" font-size="32.00" fill="#000">off</text></g>
<g transform="translate(187.42 2261.70) scale(1.0000 1)"><text font-family="Liberation Sans" font-weight="bold" font-size="27.00" fill="#000">V</text></g>
<g transform="translate(205.72 2271.30) scale(1.0000 1)"><text font-family="Liberation Sans" font-weight="bold" font-size="12.70" fill="#000">g</text></g>
<g transform="translate(213.05 2261.70) scale(0.9600 1)"><text font-family="Liberation Sans" font-weight="bold" font-size="27.00" fill="#000">=-20V</text></g>
<line x1="292.80" y1="2252.60" x2="349.60" y2="2252.60" stroke="#ff0000" stroke-width="4.60" stroke-linecap="round"/>
<g transform="translate(357.40 2261.70) scale(0.9600 1)"><text font-family="Liberation Sans" font-weight="bold" font-size="27.00" fill="#000">254 nm</text></g>
<rect x="908.30" y="1171.50" width="54.80" height="386.50" fill="#ffffcc"/>
<rect x="1009.00" y="1171.50" width="52.00" height="389.50" fill="#ffffcc"/>
<rect x="1107.50" y="1168.00" width="56.75" height="392.00" fill="#ffffcc"/>
<rect x="1214.10" y="1172.00" width="57.70" height="389.00" fill="#ffffcc"/>
<rect x="1313.70" y="1170.00" width="57.10" height="391.00" fill="#ffffcc"/>
<clipPath id="c228"><rect x="864.20" y="1166.25" width="538.80" height="398.75"/></clipPath>
<path clip-path="url(#c228)" d="M864.2 1176.7 L866.2 1191.2 L867.7 1185.1 L869.4 1180.8 L871.5 1183.0 L873.5 1199.6 L874.8 1192.4 L876.7 1187.0 L878.0 1184.3 L879.8 1183.0 L881.3 1190.5 L882.9 1199.6 L884.5 1194.1 L886.0 1191.0 L887.4 1187.9 L889.2 1187.0 L890.8 1192.3 L892.3 1199.6 L893.8 1194.6 L895.4 1191.0 L897.5 1183.0 L900.6 1208.0 L902.7 1191.2 L904.8 1208.0 L906.4 1202.1 L907.5 1194.4 L909.0 1208.0 L911.0 1285.0 L912.1 1416.2 L913.7 1425.6 L915.2 1433.0 L916.9 1435.1 L918.3 1439.2 L920.5 1439.4 L922.5 1438.1 L924.7 1436.5 L926.7 1437.0 L928.7 1440.3 L930.8 1441.2 L932.4 1445.3 L934.0 1447.5 L935.3 1443.3 L937.0 1441.2 L938.4 1446.4 L940.2 1449.6 L942.3 1459.0 L944.1 1452.5 L945.4 1444.4 L947.2 1452.8 L948.5 1463.1 L949.9 1457.1 L951.7 1449.6 L953.2 1451.0 L954.8 1455.0 L956.9 1447.5 L959.0 1463.1 L960.1 1462.9 L961.7 1461.0 L962.5 1326.7 L963.1 1193.3 L964.6 1192.3 L966.2 1189.2 L968.3 1185.8 L970.4 1185.0 L972.5 1181.7 L974.6 1179.8 L976.3 1180.6 L977.7 1179.8 L979.8 1197.5 L981.3 1190.9 L982.9 1182.9 L985.0 1193.3 L986.5 1189.1 L988.0 1187.0 L989.6 1182.8 L991.2 1180.8 L992.6 1185.1 L994.4 1191.2 L996.2 1186.7 L997.5 1180.8 L999.0 1181.5 L1000.6 1179.8 L1002.4 1180.4 L1003.8 1178.8 L1005.6 1190.9 L1006.9 1200.6 L1009.0 1197.5 L1010.1 1189.5 L1011.7 1182.9 L1013.1 1201.7 L1014.2 1243.3 L1015.2 1389.2 L1016.2 1437.0 L1018.3 1439.2 L1020.0 1441.3 L1021.5 1445.4 L1023.5 1437.0 L1025.2 1448.3 L1026.7 1458.0 L1028.0 1450.7 L1029.8 1441.2 L1031.3 1443.3 L1033.0 1447.5 L1034.5 1442.9 L1036.0 1440.2 L1037.8 1445.8 L1039.2 1449.6 L1040.7 1450.1 L1042.3 1448.5 L1043.6 1456.1 L1045.4 1466.2 L1047.5 1468.0 L1049.6 1471.5 L1050.9 1461.6 L1052.7 1453.8 L1054.8 1470.4 L1056.4 1468.3 L1057.9 1464.2 L1059.0 1305.8 L1060.4 1214.2 L1062.1 1205.8 L1063.4 1201.1 L1065.2 1198.5 L1066.5 1196.1 L1068.3 1191.2 L1069.9 1195.1 L1071.4 1197.5 L1073.5 1187.0 L1075.3 1184.9 L1076.7 1180.8 L1078.1 1185.3 L1079.8 1191.2 L1081.3 1195.8 L1082.9 1198.5 L1084.6 1191.0 L1086.0 1185.0 L1087.9 1188.9 L1089.2 1191.2 L1090.8 1194.3 L1092.3 1199.6 L1093.7 1188.1 L1095.4 1178.8 L1096.8 1188.3 L1098.5 1195.4 L1100.0 1189.2 L1101.7 1185.0 L1103.8 1174.6 L1105.8 1193.3 L1108.0 1171.5 L1110.0 1187.0 L1111.0 1201.7 L1112.1 1305.8 L1114.2 1439.2 L1116.2 1433.0 L1118.0 1440.3 L1119.4 1445.4 L1121.0 1439.5 L1122.5 1436.0 L1124.8 1431.1 L1126.7 1427.7 L1128.7 1425.9 L1130.8 1426.7 L1133.2 1433.8 L1135.2 1439.2 L1137.4 1435.5 L1139.3 1429.9 L1141.1 1432.2 L1142.4 1432.0 L1143.9 1433.3 L1145.6 1436.1 L1147.1 1432.7 L1148.7 1427.8 L1150.8 1438.2 L1152.8 1425.7 L1154.5 1426.8 L1156.0 1429.9 L1157.6 1425.6 L1159.0 1423.6 L1160.1 1422.7 L1161.6 1419.5 L1162.2 1284.6 L1163.2 1168.3 L1164.2 1172.5 L1166.3 1176.6 L1168.0 1175.8 L1169.4 1172.5 L1171.0 1176.3 L1172.6 1178.7 L1174.6 1180.8 L1176.4 1175.5 L1177.7 1168.3 L1179.9 1171.3 L1181.9 1176.6 L1183.3 1171.8 L1185.0 1168.3 L1186.6 1172.6 L1188.1 1174.5 L1190.0 1173.5 L1192.3 1170.4 L1193.8 1173.9 L1195.4 1178.7 L1197.1 1173.0 L1198.5 1169.3 L1200.3 1174.2 L1201.6 1176.6 L1203.0 1171.4 L1204.7 1167.5 L1206.1 1169.9 L1207.8 1174.5 L1209.8 1172.6 L1212.0 1168.3 L1213.3 1174.7 L1215.1 1178.7 L1217.2 1222.3 L1219.3 1419.5 L1221.3 1444.4 L1223.4 1436.1 L1224.7 1434.2 L1225.9 1429.9 L1227.5 1433.1 L1228.6 1438.2 L1230.7 1432.8 L1232.8 1429.9 L1234.5 1426.6 L1235.9 1425.7 L1237.2 1427.9 L1239.0 1432.0 L1241.1 1421.6 L1242.8 1426.9 L1244.2 1434.0 L1245.8 1430.0 L1247.3 1423.6 L1249.4 1438.2 L1250.7 1427.0 L1252.5 1417.4 L1253.9 1415.4 L1255.6 1415.3 L1257.2 1415.4 L1258.7 1417.4 L1260.9 1416.3 L1262.9 1417.4 L1264.1 1419.9 L1265.4 1420.5 L1267.0 1263.8 L1268.7 1184.9 L1270.1 1199.4 L1271.5 1194.4 L1273.2 1187.0 L1275.1 1183.7 L1276.4 1182.8 L1277.7 1178.8 L1279.5 1176.6 L1281.4 1176.7 L1283.6 1178.7 L1285.0 1183.0 L1286.7 1184.9 L1288.5 1181.6 L1289.8 1180.8 L1291.9 1170.4 L1293.5 1181.5 L1295.0 1191.1 L1296.8 1187.7 L1298.2 1182.8 L1300.0 1183.0 L1301.3 1180.8 L1303.3 1193.2 L1306.5 1170.4 L1308.5 1193.2 L1309.8 1193.5 L1311.6 1195.3 L1313.7 1200.3 L1315.8 1203.6 L1317.9 1284.6 L1318.9 1427.8 L1321.0 1429.9 L1322.4 1441.0 L1324.1 1450.6 L1326.2 1440.3 L1327.7 1449.6 L1329.3 1456.9 L1330.8 1450.8 L1332.4 1446.5 L1334.0 1445.9 L1335.5 1443.4 L1336.8 1446.8 L1338.6 1452.7 L1339.9 1453.5 L1341.7 1452.7 L1343.5 1461.2 L1344.9 1471.4 L1346.7 1472.6 L1349.0 1471.4 L1350.7 1469.2 L1352.1 1465.2 L1353.7 1472.5 L1355.2 1477.6 L1356.6 1470.2 L1358.4 1465.2 L1359.8 1465.4 L1361.5 1467.3 L1362.6 1470.8 L1364.2 1476.6 L1365.6 1429.9 L1366.7 1263.8 L1367.7 1214.0 L1369.0 1212.3 L1370.8 1211.9 L1372.6 1206.3 L1373.9 1199.4 L1376.0 1211.9 L1378.1 1197.4 L1379.9 1205.9 L1381.2 1211.9 L1383.3 1197.4 L1384.7 1202.9 L1386.4 1209.8 L1388.1 1201.3 L1389.5 1195.3 L1390.9 1197.6 L1392.6 1201.5 L1394.7 1191.1 L1396.1 1198.3 L1397.8 1203.6 L1399.9 1193.2 L1401.3 1203.5 L1403.0 1211.9" fill="none" stroke="#ff0000" stroke-width="4.00" stroke-linejoin="round" stroke-linecap="round"/>
<rect x="864.20" y="1166.25" width="538.80" height="398.75" fill="none" stroke="#000" stroke-width="2.80"/>
<line x1="864.20" y1="1173.50" x2="873.60" y2="1173.50" stroke="#000" stroke-width="2.80" stroke-linecap="round"/>
<line x1="864.20" y1="1251.80" x2="873.60" y2="1251.80" stroke="#000" stroke-width="2.80" stroke-linecap="round"/>
<line x1="864.20" y1="1330.10" x2="873.60" y2="1330.10" stroke="#000" stroke-width="2.80" stroke-linecap="round"/>
<line x1="864.20" y1="1408.40" x2="873.60" y2="1408.40" stroke="#000" stroke-width="2.80" stroke-linecap="round"/>
<line x1="864.20" y1="1486.70" x2="873.60" y2="1486.70" stroke="#000" stroke-width="2.80" stroke-linecap="round"/>
<line x1="864.20" y1="1212.65" x2="870.00" y2="1212.65" stroke="#000" stroke-width="2.80" stroke-linecap="round"/>
<line x1="864.20" y1="1290.95" x2="870.00" y2="1290.95" stroke="#000" stroke-width="2.80" stroke-linecap="round"/>
<line x1="864.20" y1="1369.25" x2="870.00" y2="1369.25" stroke="#000" stroke-width="2.80" stroke-linecap="round"/>
<line x1="864.20" y1="1447.55" x2="870.00" y2="1447.55" stroke="#000" stroke-width="2.80" stroke-linecap="round"/>
<line x1="864.20" y1="1525.85" x2="870.00" y2="1525.85" stroke="#000" stroke-width="2.80" stroke-linecap="round"/>
<line x1="930.80" y1="1565.00" x2="930.80" y2="1556.30" stroke="#000" stroke-width="2.80" stroke-linecap="round"/>
<line x1="1032.25" y1="1565.00" x2="1032.25" y2="1556.30" stroke="#000" stroke-width="2.80" stroke-linecap="round"/>
<line x1="1133.70" y1="1565.00" x2="1133.70" y2="1556.30" stroke="#000" stroke-width="2.80" stroke-linecap="round"/>
<line x1="1235.15" y1="1565.00" x2="1235.15" y2="1556.30" stroke="#000" stroke-width="2.80" stroke-linecap="round"/>
<line x1="1336.60" y1="1565.00" x2="1336.60" y2="1556.30" stroke="#000" stroke-width="2.80" stroke-linecap="round"/>
<line x1="880.07" y1="1565.00" x2="880.07" y2="1560.20" stroke="#000" stroke-width="2.80" stroke-linecap="round"/>
<line x1="981.52" y1="1565.00" x2="981.52" y2="1560.20" stroke="#000" stroke-width="2.80" stroke-linecap="round"/>
<line x1="1082.97" y1="1565.00" x2="1082.97" y2="1560.20" stroke="#000" stroke-width="2.80" stroke-linecap="round"/>
<line x1="1184.42" y1="1565.00" x2="1184.42" y2="1560.20" stroke="#000" stroke-width="2.80" stroke-linecap="round"/>
<line x1="1285.88" y1="1565.00" x2="1285.88" y2="1560.20" stroke="#000" stroke-width="2.80" stroke-linecap="round"/>
<line x1="1387.32" y1="1565.00" x2="1387.32" y2="1560.20" stroke="#000" stroke-width="2.80" stroke-linecap="round"/>
<g transform="translate(841.04 1181.06) scale(0.9750 1)"><text font-family="Liberation Sans" font-weight="bold" font-size="26.60" fill="#000">0</text></g>
<g transform="translate(817.98 1259.36) scale(0.9750 1)"><text x="0.00" font-family="Liberation Sans" font-weight="bold" font-size="26.60" fill="#000">-</text><path transform="translate(8.86 0) scale(0.01299 -0.01299)" d="M478 0L478 1170L140 959L140 1180L493 1409L759 1409L759 0Z" fill="#000"/><text x="23.65" font-family="Liberation Sans" font-weight="bold" font-size="26.60" fill="#000">0</text></g>
<g transform="translate(817.98 1337.66) scale(0.9750 1)"><text font-family="Liberation Sans" font-weight="bold" font-size="26.60" fill="#000">-20</text></g>
<g transform="translate(817.98 1415.94) scale(0.9750 1)"><text font-family="Liberation Sans" font-weight="bold" font-size="26.60" fill="#000">-30</text></g>
<g transform="translate(817.98 1494.26) scale(0.9750 1)"><text font-family="Liberation Sans" font-weight="bold" font-size="26.60" fill="#000">-40</text></g>
<g transform="translate(817.98 1572.56) scale(0.9750 1)"><text font-family="Liberation Sans" font-weight="bold" font-size="26.60" fill="#000">-50</text></g>
<g transform="translate(916.21 1594.06) scale(0.9750 1)"><text font-family="Liberation Sans" font-weight="bold" font-size="26.60" fill="#000">40</text></g>
<g transform="translate(1017.38 1594.06) scale(0.9750 1)"><text font-family="Liberation Sans" font-weight="bold" font-size="26.60" fill="#000">60</text></g>
<g transform="translate(1118.90 1594.06) scale(0.9750 1)"><text font-family="Liberation Sans" font-weight="bold" font-size="26.60" fill="#000">80</text></g>
<g transform="translate(1212.73 1594.06) scale(0.9750 1)"><path transform="translate(0.00 0) scale(0.01299 -0.01299)" d="M478 0L478 1170L140 959L140 1180L493 1409L759 1409L759 0Z" fill="#000"/><text x="14.79" font-family="Liberation Sans" font-weight="bold" font-size="26.60" fill="#000">00</text></g>
<g transform="translate(1314.18 1594.06) scale(0.9750 1)"><path transform="translate(0.00 0) scale(0.01299 -0.01299)" d="M478 0L478 1170L140 959L140 1180L493 1409L759 1409L759 0Z" fill="#000"/><text x="14.79" font-family="Liberation Sans" font-weight="bold" font-size="26.60" fill="#000">20</text></g>
<g transform="translate(1066.34 1633.60) scale(1.0347 1)"><text font-family="Liberation Sans" font-weight="bold" font-size="30.81" fill="#000">Time (s)</text></g>
<g transform="translate(789.40 1535.94) rotate(-90) scale(0.9576 1)"><text font-family="Liberation Sans" font-weight="bold" font-size="33.40" fill="#000">Responsivity (mAW</text><g transform="translate(313.63 -17.70)"><text x="0.00" font-family="Liberation Sans" font-weight="bold" font-size="20.04" fill="#000">-</text><path transform="translate(6.67 0) scale(0.00979 -0.00979)" d="M478 0L478 1170L140 959L140 1180L493 1409L759 1409L759 0Z" fill="#000"/></g><g transform="translate(331.45 0)"><text font-family="Liberation Sans" font-weight="bold" font-size="33.40" fill="#000">)</text></g></g>
<g transform="translate(743.66 1173.31) scale(1.0461 1)"><text font-family="Liberation Serif" font-weight="bold" font-size="76.98" fill="#000">(e)</text></g>
<g transform="translate(867.05 1247.50) scale(1.0000 1)"><text font-family="Liberation Sans" font-weight="bold" font-size="32.00" fill="#000">off</text></g>
<g transform="translate(916.65 1414.60) scale(1.0000 1)"><text font-family="Liberation Sans" font-weight="bold" font-size="32.00" fill="#000">on</text></g>
<g transform="translate(966.65 1243.75) scale(1.0000 1)"><text font-family="Liberation Sans" font-weight="bold" font-size="32.00" fill="#000">off</text></g>
<g transform="translate(1016.05 1417.30) scale(1.0000 1)"><text font-family="Liberation Sans" font-weight="bold" font-size="32.00" fill="#000">on</text></g>
<g transform="translate(1065.00 1245.80) scale(1.0000 1)"><text font-family="Liberation Sans" font-weight="bold" font-size="32.00" fill="#000">off</text></g>
<g transform="translate(1116.05 1413.00) scale(1.0000 1)"><text font-family="Liberation Sans" font-weight="bold" font-size="32.00" fill="#000">on</text></g>
<g transform="translate(1169.85 1242.60) scale(1.0000 1)"><text font-family="Liberation Sans" font-weight="bold" font-size="32.00" fill="#000">off</text></g>
<g transform="translate(1223.25 1410.20) scale(1.0000 1)"><text font-family="Liberation Sans" font-weight="bold" font-size="32.00" fill="#000">on</text></g>
<g transform="translate(1271.95 1248.90) scale(1.0000 1)"><text font-family="Liberation Sans" font-weight="bold" font-size="32.00" fill="#000">off</text></g>
<g transform="translate(1321.45 1410.20) scale(1.0000 1)"><text font-family="Liberation Sans" font-weight="bold" font-size="32.00" fill="#000">on</text></g>
<g transform="translate(1359.55 1248.90) scale(1.0000 1)"><text font-family="Liberation Sans" font-weight="bold" font-size="32.00" fill="#000">off</text></g>
<g transform="translate(1143.31 1541.00) scale(1.0000 1)"><text font-family="Liberation Sans" font-weight="bold" font-size="27.20" fill="#000">V</text></g>
<g transform="translate(1161.75 1550.70) scale(1.0000 1)"><text font-family="Liberation Sans" font-weight="bold" font-size="12.70" fill="#000">g</text></g>
<g transform="translate(1169.07 1541.00) scale(0.9600 1)"><text font-family="Liberation Sans" font-weight="bold" font-size="27.20" fill="#000">=20V</text></g>
<line x1="1239.20" y1="1531.60" x2="1296.90" y2="1531.60" stroke="#ff0000" stroke-width="4.60" stroke-linecap="round"/>
<g transform="translate(1305.09 1541.00) scale(0.9600 1)"><text font-family="Liberation Sans" font-weight="bold" font-size="27.20" fill="#000">254 nm</text></g>
<rect x="896.25" y="1695.00" width="59.75" height="388.00" fill="#ffffcc"/>
<rect x="1001.25" y="1694.20" width="57.95" height="387.80" fill="#ffffcc"/>
<rect x="1104.00" y="1693.00" width="56.80" height="389.00" fill="#ffffcc"/>
<rect x="1209.40" y="1693.50" width="54.10" height="388.50" fill="#ffffcc"/>
<rect x="1311.50" y="1693.50" width="54.75" height="389.50" fill="#ffffcc"/>
<clipPath id="c287"><rect x="861.25" y="1688.30" width="538.25" height="398.00"/></clipPath>
<path clip-path="url(#c287)" d="M861.2 1742.5 L862.9 1715.4 L864.0 1714.0 L865.4 1714.4 L866.5 1736.2 L868.6 1728.0 L869.9 1722.9 L871.7 1719.6 L873.0 1723.1 L874.8 1727.9 L876.9 1736.5 L879.0 1746.7 L881.0 1725.8 L882.6 1724.1 L884.2 1724.8 L886.2 1734.2 L888.3 1720.6 L890.4 1724.8 L892.5 1714.4 L894.6 1721.7 L895.6 1729.0 L897.7 1727.9 L899.8 1752.9 L900.8 1825.8 L902.9 1930.0 L904.0 1988.3 L905.0 1988.3 L907.1 1980.0 L908.8 2009.2 L910.2 1986.2 L912.3 2005.0 L914.4 1984.2 L916.5 1988.3 L917.8 1990.4 L919.6 1994.6 L922.7 2019.6 L924.3 2012.3 L925.8 2007.1 L927.8 2010.6 L930.0 2015.4 L932.3 2017.4 L934.2 2017.5 L935.8 2023.7 L937.3 2027.9 L939.4 2013.3 L941.1 2019.6 L942.5 2027.9 L944.1 2026.5 L945.6 2023.8 L947.7 2009.2 L949.8 2007.1 L951.2 2030.0 L951.9 1846.7 L952.9 1763.3 L955.0 1742.5 L957.1 1724.8 L959.2 1721.7 L961.2 1730.0 L963.3 1718.5 L965.0 1716.4 L966.5 1716.5 L968.5 1702.9 L970.1 1701.5 L971.7 1697.7 L973.2 1701.2 L974.8 1702.9 L976.9 1717.5 L978.3 1713.3 L980.0 1711.2 L981.4 1705.0 L983.1 1696.7 L985.2 1707.1 L987.0 1703.2 L988.3 1697.7 L990.4 1715.4 L992.2 1711.3 L993.5 1709.2 L995.4 1704.7 L997.7 1698.8 L999.8 1717.5 L1001.9 1723.8 L1004.0 1725.8 L1005.0 1846.7 L1006.7 1996.7 L1008.1 1986.2 L1010.2 2000.8 L1011.7 2002.7 L1013.3 2007.1 L1014.6 2012.7 L1016.5 2016.5 L1018.0 2012.8 L1019.6 2007.1 L1021.1 2003.2 L1022.7 2001.9 L1024.2 2005.9 L1025.8 2011.2 L1027.5 2009.0 L1029.0 2005.0 L1030.5 2004.6 L1032.1 2002.9 L1033.6 2008.1 L1035.2 2015.4 L1036.7 2010.1 L1038.3 2007.1 L1039.7 2004.6 L1041.5 2004.0 L1043.3 2004.7 L1044.6 2004.0 L1046.7 2015.4 L1048.2 2015.1 L1049.8 2012.3 L1051.5 2013.9 L1052.9 2013.3 L1054.7 2017.2 L1056.0 2018.5 L1057.1 1846.7 L1058.1 1705.0 L1060.2 1706.0 L1061.5 1711.5 L1063.3 1718.5 L1065.0 1711.8 L1066.5 1707.1 L1068.1 1711.0 L1069.6 1713.3 L1070.9 1711.2 L1072.7 1707.1 L1074.1 1712.8 L1075.8 1720.6 L1077.4 1719.2 L1079.0 1719.6 L1080.7 1717.4 L1082.0 1713.3 L1083.5 1716.0 L1085.2 1716.5 L1086.5 1717.8 L1088.3 1721.7 L1090.4 1707.1 L1092.5 1721.7 L1094.0 1715.6 L1095.6 1711.2 L1097.7 1721.7 L1099.8 1731.0 L1101.9 1725.8 L1102.9 1752.9 L1104.7 1757.1 L1107.1 1763.3 L1108.1 1867.5 L1110.2 2013.3 L1111.2 2021.7 L1112.8 2020.6 L1114.4 2017.5 L1115.7 2019.6 L1117.5 2023.8 L1119.4 2022.9 L1121.7 2019.6 L1123.8 2022.4 L1125.8 2023.8 L1128.1 2011.2 L1129.9 2019.5 L1131.2 2025.8 L1132.7 2018.8 L1134.4 2013.3 L1135.9 2011.2 L1137.5 2007.1 L1139.2 2015.7 L1140.6 2025.8 L1142.4 2024.5 L1143.7 2021.7 L1145.3 2018.5 L1146.9 2017.5 L1148.3 2015.3 L1150.0 2015.4 L1151.4 2019.8 L1153.1 2021.7 L1154.4 2018.6 L1155.8 2017.5 L1157.3 1846.7 L1158.3 1752.9 L1160.4 1709.2 L1162.5 1711.2 L1164.6 1723.8 L1166.3 1717.5 L1167.7 1709.2 L1169.8 1725.8 L1171.9 1719.6 L1173.5 1721.5 L1175.0 1725.8 L1176.7 1718.8 L1178.1 1713.3 L1180.2 1727.9 L1181.7 1718.3 L1183.3 1711.2 L1185.1 1721.4 L1186.5 1730.0 L1188.2 1723.6 L1189.6 1715.4 L1191.4 1711.5 L1192.7 1705.0 L1194.2 1710.5 L1195.8 1717.5 L1197.9 1727.9 L1199.4 1721.4 L1201.0 1713.3 L1202.7 1717.6 L1204.2 1723.8 L1205.8 1719.4 L1207.3 1717.5 L1209.4 1727.9 L1210.4 1763.3 L1212.5 1930.0 L1213.5 2002.9 L1215.6 1992.5 L1217.7 2000.8 L1219.8 2015.4 L1221.1 2014.5 L1222.9 2011.2 L1224.6 2016.7 L1226.0 2019.6 L1227.6 2017.2 L1229.2 2013.3 L1231.0 2013.2 L1232.3 2011.2 L1234.0 2015.4 L1235.4 2021.7 L1236.8 2016.8 L1238.5 2013.3 L1240.2 2016.6 L1241.7 2017.5 L1243.0 2020.7 L1244.8 2021.7 L1246.3 2018.9 L1247.9 2017.5 L1250.0 2021.7 L1251.7 2014.5 L1253.1 2009.2 L1255.2 2015.4 L1257.3 1996.7 L1259.1 2000.0 L1260.4 2000.8 L1261.5 1846.7 L1262.9 1711.2 L1264.1 1709.6 L1265.6 1709.2 L1267.0 1715.3 L1268.8 1723.8 L1270.2 1723.9 L1271.9 1721.7 L1274.0 1725.8 L1275.3 1723.9 L1277.1 1719.6 L1278.7 1714.5 L1280.2 1707.1 L1282.0 1710.3 L1283.3 1715.4 L1285.4 1705.0 L1287.0 1706.9 L1288.5 1711.2 L1290.3 1716.3 L1291.7 1723.8 L1293.0 1714.5 L1294.8 1707.1 L1296.5 1710.4 L1297.9 1715.4 L1299.5 1719.7 L1301.0 1721.7 L1303.1 1707.1 L1304.4 1712.5 L1306.2 1719.6 L1307.7 1719.7 L1309.4 1721.7 L1311.5 1705.0 L1313.5 1723.8 L1315.0 1805.0 L1316.7 1940.4 L1317.7 2009.2 L1319.8 2013.3 L1321.9 2030.0 L1324.0 2017.5 L1326.0 2025.8 L1328.1 2009.2 L1330.2 2023.8 L1332.3 2007.1 L1334.4 2021.7 L1336.0 2014.5 L1337.5 2009.2 L1339.1 2012.2 L1340.6 2017.5 L1342.7 2023.8 L1344.2 2020.6 L1345.8 2015.4 L1347.2 2017.7 L1349.0 2017.5 L1350.8 2014.2 L1352.1 2013.3 L1353.4 2009.8 L1355.2 2008.1 L1356.6 2009.8 L1358.3 2013.3 L1360.4 2002.9 L1362.5 1996.7 L1363.5 1846.7 L1364.6 1711.2 L1366.0 1706.2 L1367.7 1698.8 L1369.8 1690.4 L1371.9 1711.2 L1374.0 1690.4 L1375.8 1692.3 L1377.1 1696.7 L1378.7 1704.7 L1380.2 1711.2 L1382.3 1692.5 L1384.1 1697.4 L1385.4 1700.8 L1387.2 1697.9 L1388.5 1692.5 L1389.9 1699.0 L1391.7 1707.1 L1393.8 1690.4 L1395.3 1699.6 L1396.9 1707.1 L1399.0 1696.7" fill="none" stroke="#ff0000" stroke-width="4.00" stroke-linejoin="round" stroke-linecap="round"/>
<rect x="861.25" y="1688.30" width="538.25" height="398.00" fill="none" stroke="#000" stroke-width="2.80"/>
<line x1="861.25" y1="1695.60" x2="870.65" y2="1695.60" stroke="#000" stroke-width="2.80" stroke-linecap="round"/>
<line x1="861.25" y1="1773.74" x2="870.65" y2="1773.74" stroke="#000" stroke-width="2.80" stroke-linecap="round"/>
<line x1="861.25" y1="1851.88" x2="870.65" y2="1851.88" stroke="#000" stroke-width="2.80" stroke-linecap="round"/>
<line x1="861.25" y1="1930.02" x2="870.65" y2="1930.02" stroke="#000" stroke-width="2.80" stroke-linecap="round"/>
<line x1="861.25" y1="2008.16" x2="870.65" y2="2008.16" stroke="#000" stroke-width="2.80" stroke-linecap="round"/>
<line x1="861.25" y1="1734.67" x2="867.05" y2="1734.67" stroke="#000" stroke-width="2.80" stroke-linecap="round"/>
<line x1="861.25" y1="1812.81" x2="867.05" y2="1812.81" stroke="#000" stroke-width="2.80" stroke-linecap="round"/>
<line x1="861.25" y1="1890.95" x2="867.05" y2="1890.95" stroke="#000" stroke-width="2.80" stroke-linecap="round"/>
<line x1="861.25" y1="1969.09" x2="867.05" y2="1969.09" stroke="#000" stroke-width="2.80" stroke-linecap="round"/>
<line x1="861.25" y1="2047.23" x2="867.05" y2="2047.23" stroke="#000" stroke-width="2.80" stroke-linecap="round"/>
<line x1="912.90" y1="2086.30" x2="912.90" y2="2077.60" stroke="#000" stroke-width="2.80" stroke-linecap="round"/>
<line x1="1015.30" y1="2086.30" x2="1015.30" y2="2077.60" stroke="#000" stroke-width="2.80" stroke-linecap="round"/>
<line x1="1117.70" y1="2086.30" x2="1117.70" y2="2077.60" stroke="#000" stroke-width="2.80" stroke-linecap="round"/>
<line x1="1220.10" y1="2086.30" x2="1220.10" y2="2077.60" stroke="#000" stroke-width="2.80" stroke-linecap="round"/>
<line x1="1322.50" y1="2086.30" x2="1322.50" y2="2077.60" stroke="#000" stroke-width="2.80" stroke-linecap="round"/>
<line x1="964.10" y1="2086.30" x2="964.10" y2="2081.50" stroke="#000" stroke-width="2.80" stroke-linecap="round"/>
<line x1="1066.50" y1="2086.30" x2="1066.50" y2="2081.50" stroke="#000" stroke-width="2.80" stroke-linecap="round"/>
<line x1="1168.90" y1="2086.30" x2="1168.90" y2="2081.50" stroke="#000" stroke-width="2.80" stroke-linecap="round"/>
<line x1="1271.30" y1="2086.30" x2="1271.30" y2="2081.50" stroke="#000" stroke-width="2.80" stroke-linecap="round"/>
<line x1="1373.70" y1="2086.30" x2="1373.70" y2="2081.50" stroke="#000" stroke-width="2.80" stroke-linecap="round"/>
<g transform="translate(838.14 1703.16) scale(0.9750 1)"><text font-family="Liberation Sans" font-weight="bold" font-size="26.60" fill="#000">0</text></g>
<g transform="translate(815.08 1781.30) scale(0.9750 1)"><text x="0.00" font-family="Liberation Sans" font-weight="bold" font-size="26.60" fill="#000">-</text><path transform="translate(8.86 0) scale(0.01299 -0.01299)" d="M478 0L478 1170L140 959L140 1180L493 1409L759 1409L759 0Z" fill="#000"/><text x="23.65" font-family="Liberation Sans" font-weight="bold" font-size="26.60" fill="#000">0</text></g>
<g transform="translate(815.08 1859.44) scale(0.9750 1)"><text font-family="Liberation Sans" font-weight="bold" font-size="26.60" fill="#000">-20</text></g>
<g transform="translate(815.08 1937.56) scale(0.9750 1)"><text font-family="Liberation Sans" font-weight="bold" font-size="26.60" fill="#000">-30</text></g>
<g transform="translate(815.08 2015.72) scale(0.9750 1)"><text font-family="Liberation Sans" font-weight="bold" font-size="26.60" fill="#000">-40</text></g>
<g transform="translate(815.08 2093.86) scale(0.9750 1)"><text font-family="Liberation Sans" font-weight="bold" font-size="26.60" fill="#000">-50</text></g>
<g transform="translate(898.06 2116.46) scale(0.9750 1)"><text font-family="Liberation Sans" font-weight="bold" font-size="26.60" fill="#000">20</text></g>
<g transform="translate(1000.71 2116.46) scale(0.9750 1)"><text font-family="Liberation Sans" font-weight="bold" font-size="26.60" fill="#000">40</text></g>
<g transform="translate(1102.83 2116.46) scale(0.9750 1)"><text font-family="Liberation Sans" font-weight="bold" font-size="26.60" fill="#000">60</text></g>
<g transform="translate(1205.30 2116.46) scale(0.9750 1)"><text font-family="Liberation Sans" font-weight="bold" font-size="26.60" fill="#000">80</text></g>
<g transform="translate(1300.08 2116.46) scale(0.9750 1)"><path transform="translate(0.00 0) scale(0.01299 -0.01299)" d="M478 0L478 1170L140 959L140 1180L493 1409L759 1409L759 0Z" fill="#000"/><text x="14.79" font-family="Liberation Sans" font-weight="bold" font-size="26.60" fill="#000">00</text></g>
<g transform="translate(1069.74 2165.40) scale(1.0037 1)"><text font-family="Liberation Sans" font-weight="bold" font-size="31.69" fill="#000">Time (s)</text></g>
<g transform="translate(790.90 2069.51) rotate(-90) scale(0.9457 1)"><text font-family="Liberation Sans" font-weight="bold" font-size="33.40" fill="#000">Responsivity (mAW</text><g transform="translate(313.63 -17.70)"><text x="0.00" font-family="Liberation Sans" font-weight="bold" font-size="20.04" fill="#000">-</text><path transform="translate(6.67 0) scale(0.00979 -0.00979)" d="M478 0L478 1170L140 959L140 1180L493 1409L759 1409L759 0Z" fill="#000"/></g><g transform="translate(331.45 0)"><text font-family="Liberation Sans" font-weight="bold" font-size="33.40" fill="#000">)</text></g></g>
<g transform="translate(751.95 1688.61) scale(1.0479 1)"><text font-family="Liberation Serif" font-weight="bold" font-size="76.98" fill="#000">(f)</text></g>
<g transform="translate(863.15 1806.70) scale(1.0000 1)"><text font-family="Liberation Sans" font-weight="bold" font-size="32.00" fill="#000">off</text></g>
<g transform="translate(905.45 1988.00) scale(1.0000 1)"><text font-family="Liberation Sans" font-weight="bold" font-size="32.00" fill="#000">on</text></g>
<g transform="translate(957.95 1806.00) scale(1.0000 1)"><text font-family="Liberation Sans" font-weight="bold" font-size="32.00" fill="#000">off</text></g>
<g transform="translate(1010.45 1989.40) scale(1.0000 1)"><text font-family="Liberation Sans" font-weight="bold" font-size="32.00" fill="#000">on</text></g>
<g transform="translate(1061.05 1806.00) scale(1.0000 1)"><text font-family="Liberation Sans" font-weight="bold" font-size="32.00" fill="#000">off</text></g>
<g transform="translate(1113.15 1990.40) scale(1.0000 1)"><text font-family="Liberation Sans" font-weight="bold" font-size="32.00" fill="#000">on</text></g>
<g transform="translate(1159.15 1806.00) scale(1.0000 1)"><text font-family="Liberation Sans" font-weight="bold" font-size="32.00" fill="#000">off</text></g>
<g transform="translate(1217.50 1990.40) scale(1.0000 1)"><text font-family="Liberation Sans" font-weight="bold" font-size="32.00" fill="#000">on</text></g>
<g transform="translate(1265.85 1806.00) scale(1.0000 1)"><text font-family="Liberation Sans" font-weight="bold" font-size="32.00" fill="#000">off</text></g>
<g transform="translate(1318.55 1991.50) scale(1.0000 1)"><text font-family="Liberation Sans" font-weight="bold" font-size="32.00" fill="#000">on</text></g>
<g transform="translate(1358.75 1806.00) scale(1.0000 1)"><text font-family="Liberation Sans" font-weight="bold" font-size="32.00" fill="#000">off</text></g>
<g transform="translate(1133.11 2067.10) scale(1.0000 1)"><text font-family="Liberation Sans" font-weight="bold" font-size="27.20" fill="#000">V</text></g>
<g transform="translate(1151.55 2077.00) scale(1.0000 1)"><text font-family="Liberation Sans" font-weight="bold" font-size="12.70" fill="#000">g</text></g>
<g transform="translate(1158.87 2067.10) scale(0.9600 1)"><text font-family="Liberation Sans" font-weight="bold" font-size="27.20" fill="#000">=30V</text></g>
<line x1="1229.30" y1="2056.70" x2="1286.20" y2="2056.70" stroke="#ff0000" stroke-width="4.60" stroke-linecap="round"/>
<g transform="translate(1294.89 2067.10) scale(0.9600 1)"><text font-family="Liberation Sans" font-weight="bold" font-size="27.20" fill="#000">254 nm</text></g>
<rect x="898.50" y="2219.40" width="54.20" height="390.60" fill="#ffffcc"/>
<rect x="998.50" y="2220.00" width="56.30" height="390.00" fill="#ffffcc"/>
<rect x="1101.25" y="2219.50" width="56.75" height="390.50" fill="#ffffcc"/>
<rect x="1201.00" y="2219.30" width="61.90" height="390.70" fill="#ffffcc"/>
<rect x="1308.10" y="2219.30" width="56.50" height="390.70" fill="#ffffcc"/>
<clipPath id="c345"><rect x="864.60" y="2215.60" width="538.40" height="398.60"/></clipPath>
<path clip-path="url(#c345)" d="M864.2 2252.7 L865.6 2250.7 L867.3 2250.6 L868.6 2249.2 L870.4 2249.6 L871.7 2251.5 L873.5 2254.8 L875.6 2252.0 L877.7 2260.0 L879.8 2256.9 L880.8 2265.2 L882.9 2260.0 L884.6 2274.6 L885.8 2268.0 L887.1 2263.1 L889.2 2255.8 L891.3 2257.9 L893.3 2274.6 L895.4 2262.0 L897.5 2264.2 L898.5 2267.3 L898.5 2418.3 L899.2 2564.2 L900.5 2572.4 L901.7 2582.9 L903.8 2585.0 L905.8 2579.8 L907.2 2580.8 L909.0 2584.0 L910.6 2580.9 L912.1 2579.8 L914.2 2585.0 L916.2 2584.0 L917.8 2586.9 L919.4 2591.2 L921.5 2585.0 L923.5 2580.8 L925.1 2578.6 L926.2 2574.6 L927.5 2579.8 L928.8 2582.9 L930.4 2584.0 L931.9 2587.1 L934.0 2578.8 L936.0 2582.9 L937.5 2586.2 L938.8 2588.1 L940.1 2583.4 L941.2 2580.8 L942.8 2584.1 L944.4 2585.0 L946.5 2585.0 L948.5 2600.6 L950.0 2597.5 L950.6 2418.3 L951.2 2264.2 L952.7 2270.4 L954.8 2279.8 L956.9 2280.8 L959.0 2266.2 L961.0 2285.0 L963.1 2272.5 L965.2 2262.0 L967.3 2266.2 L969.4 2262.0 L970.9 2269.2 L972.5 2274.6 L974.6 2276.7 L976.7 2266.2 L978.1 2266.2 L979.8 2268.3 L981.2 2276.6 L982.9 2282.9 L985.0 2262.0 L987.1 2276.7 L988.9 2273.3 L990.2 2268.3 L992.3 2256.9 L994.1 2253.8 L995.4 2252.7 L996.7 2253.4 L998.5 2252.7 L1000.6 2253.8 L1001.7 2418.3 L1002.7 2551.7 L1004.8 2553.8 L1006.9 2564.2 L1008.2 2568.1 L1009.6 2574.6 L1010.6 2570.3 L1012.1 2564.2 L1013.6 2564.2 L1015.2 2562.1 L1016.7 2561.9 L1018.3 2564.2 L1020.4 2562.1 L1021.9 2567.1 L1023.5 2573.5 L1025.2 2571.7 L1026.7 2568.3 L1028.2 2577.3 L1029.8 2585.0 L1031.3 2584.5 L1032.9 2586.0 L1034.4 2585.4 L1036.0 2587.1 L1037.4 2576.8 L1039.2 2568.3 L1041.0 2574.2 L1042.3 2578.8 L1044.4 2568.3 L1045.9 2573.7 L1047.5 2576.7 L1049.2 2575.7 L1050.6 2572.5 L1052.1 2576.7 L1052.7 2418.3 L1053.8 2251.7 L1055.8 2218.3 L1057.9 2224.6 L1059.7 2226.9 L1061.0 2226.7 L1063.1 2232.9 L1065.2 2235.0 L1067.3 2216.5 L1069.4 2232.9 L1071.5 2218.3 L1072.8 2221.8 L1074.6 2226.7 L1076.2 2230.4 L1077.7 2236.0 L1079.3 2233.2 L1080.8 2228.8 L1082.2 2226.7 L1084.0 2222.5 L1086.0 2235.0 L1087.5 2228.7 L1089.2 2224.6 L1090.8 2225.7 L1092.3 2228.8 L1094.1 2232.8 L1095.4 2235.0 L1097.5 2226.7 L1099.6 2247.5 L1101.1 2249.6 L1102.7 2249.6 L1104.2 2246.5 L1105.4 2376.7 L1106.9 2543.3 L1107.9 2558.0 L1110.0 2541.2 L1111.3 2549.3 L1113.1 2560.0 L1114.6 2555.0 L1116.2 2551.7 L1117.6 2556.9 L1119.4 2564.2 L1121.0 2560.0 L1122.5 2553.8 L1124.3 2553.7 L1126.7 2555.8 L1128.1 2557.5 L1130.0 2556.7 L1131.6 2555.3 L1133.1 2552.5 L1135.2 2567.0 L1136.8 2565.5 L1138.0 2562.0 L1139.1 2565.9 L1140.4 2571.2 L1141.9 2569.1 L1143.5 2565.0 L1145.6 2573.3 L1147.6 2581.6 L1149.3 2579.8 L1150.8 2579.5 L1152.8 2500.6 L1154.9 2251.5 L1156.7 2243.9 L1158.0 2234.9 L1160.1 2221.4 L1161.7 2220.8 L1163.2 2222.5 L1164.3 2223.4 L1165.7 2226.6 L1166.9 2235.6 L1168.4 2242.2 L1170.5 2224.5 L1172.0 2234.4 L1173.6 2246.3 L1175.7 2222.5 L1177.7 2218.3 L1179.8 2232.8 L1181.5 2232.9 L1182.9 2230.8 L1185.0 2222.5 L1188.1 2249.4 L1190.2 2229.7 L1191.8 2229.1 L1193.3 2230.8 L1195.0 2232.1 L1196.4 2234.9 L1198.5 2256.7 L1200.6 2232.8 L1202.7 2237.0 L1203.7 2334.6 L1205.8 2479.9 L1208.9 2567.1 L1210.4 2563.7 L1212.0 2562.9 L1214.2 2563.7 L1216.2 2562.9 L1218.3 2560.7 L1220.3 2556.7 L1222.1 2563.2 L1223.4 2567.1 L1224.9 2568.4 L1226.5 2571.2 L1228.0 2570.9 L1229.6 2569.1 L1231.3 2573.3 L1232.8 2579.5 L1234.4 2577.3 L1235.9 2577.4 L1237.2 2581.7 L1239.0 2583.7 L1240.7 2582.8 L1242.1 2579.5 L1243.6 2585.4 L1245.2 2589.9 L1247.0 2586.7 L1248.3 2581.6 L1250.0 2582.6 L1251.4 2585.8 L1253.5 2573.3 L1255.6 2558.8 L1257.7 2562.9 L1258.7 2376.1 L1260.4 2241.1 L1261.5 2243.0 L1262.9 2246.3 L1264.9 2225.6 L1267.1 2224.7 L1269.1 2221.4 L1270.9 2226.1 L1273.2 2228.7 L1275.2 2231.1 L1277.4 2234.9 L1279.1 2235.5 L1280.5 2238.0 L1282.3 2241.9 L1283.6 2243.2 L1285.7 2222.5 L1288.8 2251.5 L1290.2 2240.5 L1291.9 2230.8 L1293.3 2225.0 L1295.0 2221.4 L1297.1 2253.6 L1298.5 2244.4 L1300.2 2232.8 L1302.3 2225.6 L1304.4 2241.1 L1306.5 2228.7 L1308.5 2230.8 L1309.6 2355.3 L1312.7 2589.9 L1314.0 2587.0 L1315.8 2581.6 L1317.4 2585.9 L1318.9 2587.8 L1320.7 2584.8 L1322.0 2583.7 L1323.6 2587.6 L1325.1 2594.0 L1326.8 2596.0 L1328.2 2600.3 L1330.3 2581.6 L1331.6 2578.5 L1333.4 2577.4 L1335.1 2575.5 L1336.5 2575.3 L1338.1 2578.6 L1339.7 2579.5 L1341.8 2573.3 L1343.1 2574.5 L1344.9 2577.4 L1346.3 2578.5 L1348.0 2581.6 L1350.0 2600.3 L1351.6 2589.0 L1353.2 2579.5 L1355.2 2596.1 L1357.3 2589.9 L1359.4 2596.1 L1360.4 2376.1 L1362.1 2234.9 L1363.5 2249.4 L1365.6 2232.8 L1367.2 2235.8 L1368.7 2241.1 L1370.3 2246.2 L1371.9 2249.4 L1373.3 2245.4 L1375.0 2239.0 L1376.8 2236.8 L1378.1 2237.0 L1379.4 2243.3 L1381.2 2251.5 L1382.6 2244.3 L1384.3 2239.0 L1385.7 2238.1 L1387.4 2234.9 L1389.2 2239.3 L1390.5 2246.3 L1391.9 2238.7 L1393.2 2229.7 L1394.7 2237.2 L1395.7 2243.2 L1397.5 2240.3 L1398.8 2234.9 L1400.2 2238.3 L1402.0 2243.2" fill="none" stroke="#ff0000" stroke-width="4.00" stroke-linejoin="round" stroke-linecap="round"/>
<rect x="864.60" y="2215.60" width="538.40" height="398.60" fill="none" stroke="#000" stroke-width="2.80"/>
<line x1="864.60" y1="2222.50" x2="874.00" y2="2222.50" stroke="#000" stroke-width="2.80" stroke-linecap="round"/>
<line x1="864.60" y1="2300.84" x2="874.00" y2="2300.84" stroke="#000" stroke-width="2.80" stroke-linecap="round"/>
<line x1="864.60" y1="2379.18" x2="874.00" y2="2379.18" stroke="#000" stroke-width="2.80" stroke-linecap="round"/>
<line x1="864.60" y1="2457.52" x2="874.00" y2="2457.52" stroke="#000" stroke-width="2.80" stroke-linecap="round"/>
<line x1="864.60" y1="2535.86" x2="874.00" y2="2535.86" stroke="#000" stroke-width="2.80" stroke-linecap="round"/>
<line x1="864.60" y1="2261.67" x2="870.40" y2="2261.67" stroke="#000" stroke-width="2.80" stroke-linecap="round"/>
<line x1="864.60" y1="2340.01" x2="870.40" y2="2340.01" stroke="#000" stroke-width="2.80" stroke-linecap="round"/>
<line x1="864.60" y1="2418.35" x2="870.40" y2="2418.35" stroke="#000" stroke-width="2.80" stroke-linecap="round"/>
<line x1="864.60" y1="2496.69" x2="870.40" y2="2496.69" stroke="#000" stroke-width="2.80" stroke-linecap="round"/>
<line x1="864.60" y1="2575.03" x2="870.40" y2="2575.03" stroke="#000" stroke-width="2.80" stroke-linecap="round"/>
<line x1="915.20" y1="2614.20" x2="915.20" y2="2605.50" stroke="#000" stroke-width="2.80" stroke-linecap="round"/>
<line x1="1017.67" y1="2614.20" x2="1017.67" y2="2605.50" stroke="#000" stroke-width="2.80" stroke-linecap="round"/>
<line x1="1120.15" y1="2614.20" x2="1120.15" y2="2605.50" stroke="#000" stroke-width="2.80" stroke-linecap="round"/>
<line x1="1222.62" y1="2614.20" x2="1222.62" y2="2605.50" stroke="#000" stroke-width="2.80" stroke-linecap="round"/>
<line x1="1325.10" y1="2614.20" x2="1325.10" y2="2605.50" stroke="#000" stroke-width="2.80" stroke-linecap="round"/>
<line x1="966.44" y1="2614.20" x2="966.44" y2="2609.40" stroke="#000" stroke-width="2.80" stroke-linecap="round"/>
<line x1="1068.91" y1="2614.20" x2="1068.91" y2="2609.40" stroke="#000" stroke-width="2.80" stroke-linecap="round"/>
<line x1="1171.39" y1="2614.20" x2="1171.39" y2="2609.40" stroke="#000" stroke-width="2.80" stroke-linecap="round"/>
<line x1="1273.86" y1="2614.20" x2="1273.86" y2="2609.40" stroke="#000" stroke-width="2.80" stroke-linecap="round"/>
<line x1="1376.34" y1="2614.20" x2="1376.34" y2="2609.40" stroke="#000" stroke-width="2.80" stroke-linecap="round"/>
<g transform="translate(841.24 2230.06) scale(0.9750 1)"><text font-family="Liberation Sans" font-weight="bold" font-size="26.60" fill="#000">0</text></g>
<g transform="translate(818.18 2308.40) scale(0.9750 1)"><text x="0.00" font-family="Liberation Sans" font-weight="bold" font-size="26.60" fill="#000">-</text><path transform="translate(8.86 0) scale(0.01299 -0.01299)" d="M478 0L478 1170L140 959L140 1180L493 1409L759 1409L759 0Z" fill="#000"/><text x="23.65" font-family="Liberation Sans" font-weight="bold" font-size="26.60" fill="#000">0</text></g>
<g transform="translate(818.18 2386.74) scale(0.9750 1)"><text font-family="Liberation Sans" font-weight="bold" font-size="26.60" fill="#000">-20</text></g>
<g transform="translate(818.18 2465.06) scale(0.9750 1)"><text font-family="Liberation Sans" font-weight="bold" font-size="26.60" fill="#000">-30</text></g>
<g transform="translate(818.18 2543.42) scale(0.9750 1)"><text font-family="Liberation Sans" font-weight="bold" font-size="26.60" fill="#000">-40</text></g>
<g transform="translate(818.18 2621.76) scale(0.9750 1)"><text font-family="Liberation Sans" font-weight="bold" font-size="26.60" fill="#000">-50</text></g>
<g transform="translate(900.36 2643.66) scale(0.9750 1)"><text font-family="Liberation Sans" font-weight="bold" font-size="26.60" fill="#000">20</text></g>
<g transform="translate(1003.09 2643.66) scale(0.9750 1)"><text font-family="Liberation Sans" font-weight="bold" font-size="26.60" fill="#000">40</text></g>
<g transform="translate(1105.28 2643.66) scale(0.9750 1)"><text font-family="Liberation Sans" font-weight="bold" font-size="26.60" fill="#000">60</text></g>
<g transform="translate(1207.82 2643.66) scale(0.9750 1)"><text font-family="Liberation Sans" font-weight="bold" font-size="26.60" fill="#000">80</text></g>
<g transform="translate(1302.68 2643.66) scale(0.9750 1)"><path transform="translate(0.00 0) scale(0.01299 -0.01299)" d="M478 0L478 1170L140 959L140 1180L493 1409L759 1409L759 0Z" fill="#000"/><text x="14.79" font-family="Liberation Sans" font-weight="bold" font-size="26.60" fill="#000">00</text></g>
<g transform="translate(1066.34 2683.30) scale(1.0259 1)"><text font-family="Liberation Sans" font-weight="bold" font-size="31.11" fill="#000">Time (s)</text></g>
<g transform="translate(789.40 2585.13) rotate(-90) scale(0.9553 1)"><text font-family="Liberation Sans" font-weight="bold" font-size="33.40" fill="#000">Responsivity (mAW</text><g transform="translate(313.63 -17.70)"><text x="0.00" font-family="Liberation Sans" font-weight="bold" font-size="20.04" fill="#000">-</text><path transform="translate(6.67 0) scale(0.00979 -0.00979)" d="M478 0L478 1170L140 959L140 1180L493 1409L759 1409L759 0Z" fill="#000"/></g><g transform="translate(331.45 0)"><text font-family="Liberation Sans" font-weight="bold" font-size="33.40" fill="#000">)</text></g></g>
<g transform="translate(739.45 2209.68) scale(1.0528 1)"><text font-family="Liberation Serif" font-weight="bold" font-size="76.65" fill="#000">(g)</text></g>
<g transform="translate(869.15 2314.20) scale(1.0000 1)"><text font-family="Liberation Sans" font-weight="bold" font-size="32.00" fill="#000">off</text></g>
<g transform="translate(905.00 2551.70) scale(1.0000 1)"><text font-family="Liberation Sans" font-weight="bold" font-size="32.00" fill="#000">on</text></g>
<g transform="translate(954.15 2317.30) scale(1.0000 1)"><text font-family="Liberation Sans" font-weight="bold" font-size="32.00" fill="#000">off</text></g>
<g transform="translate(1006.65 2549.60) scale(1.0000 1)"><text font-family="Liberation Sans" font-weight="bold" font-size="32.00" fill="#000">on</text></g>
<g transform="translate(1059.15 2317.30) scale(1.0000 1)"><text font-family="Liberation Sans" font-weight="bold" font-size="32.00" fill="#000">off</text></g>
<g transform="translate(1111.25 2547.50) scale(1.0000 1)"><text font-family="Liberation Sans" font-weight="bold" font-size="32.00" fill="#000">on</text></g>
<g transform="translate(1160.35 2320.00) scale(1.0000 1)"><text font-family="Liberation Sans" font-weight="bold" font-size="32.00" fill="#000">off</text></g>
<g transform="translate(1211.75 2550.50) scale(1.0000 1)"><text font-family="Liberation Sans" font-weight="bold" font-size="32.00" fill="#000">on</text></g>
<g transform="translate(1265.35 2321.70) scale(1.0000 1)"><text font-family="Liberation Sans" font-weight="bold" font-size="32.00" fill="#000">off</text></g>
<g transform="translate(1317.65 2550.50) scale(1.0000 1)"><text font-family="Liberation Sans" font-weight="bold" font-size="32.00" fill="#000">on</text></g>
<g transform="translate(1357.15 2321.70) scale(1.0000 1)"><text font-family="Liberation Sans" font-weight="bold" font-size="32.00" fill="#000">off</text></g>
<g transform="translate(1038.56 2599.20) scale(1.0000 1)"><text font-family="Liberation Sans" font-weight="bold" font-size="27.30" fill="#000">V</text></g>
<g transform="translate(1057.06 2608.90) scale(1.0000 1)"><text font-family="Liberation Sans" font-weight="bold" font-size="12.70" fill="#000">g</text></g>
<g transform="translate(1064.39 2599.20) scale(0.9600 1)"><text font-family="Liberation Sans" font-weight="bold" font-size="27.30" fill="#000">=40V</text></g>
<line x1="1133.80" y1="2589.80" x2="1190.60" y2="2589.80" stroke="#ff0000" stroke-width="4.60" stroke-linecap="round"/>
<g transform="translate(1198.69 2599.20) scale(0.9600 1)"><text font-family="Liberation Sans" font-weight="bold" font-size="27.30" fill="#000">254 nm</text></g>
</svg></body></html>
